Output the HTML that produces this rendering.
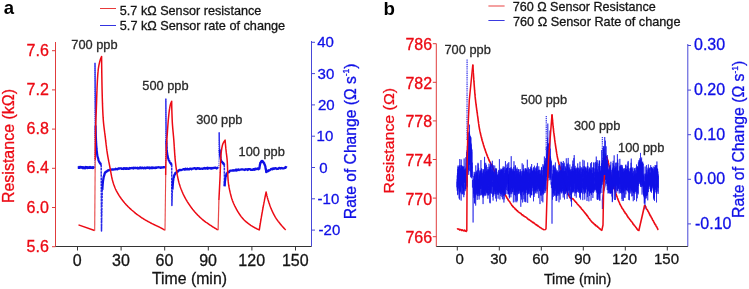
<!DOCTYPE html>
<html><head><meta charset="utf-8"><style>
html,body{margin:0;padding:0;background:#fff;width:749px;height:289px;overflow:hidden}
svg{display:block;will-change:transform;filter:blur(0.3px)}
text{font-family:"Liberation Sans", sans-serif}
</style></head><body>
<svg width="749" height="289" viewBox="0 0 749 289">
<rect width="749" height="289" fill="#fff"/>
<text x="3.8" y="13.5" font-size="18.5" fill="#000" text-anchor="start" font-weight="bold" >a</text>
<line x1="100" y1="8.5" x2="116" y2="8.5" stroke="#e83a3a" stroke-width="1"/>
<text x="119.8" y="14.7" font-size="12.65" fill="#151515" text-anchor="start" font-weight="normal" stroke="#151515" stroke-width="0.3" >5.7 kΩ Sensor resistance</text>
<line x1="100" y1="25.5" x2="116" y2="25.5" stroke="#3434e0" stroke-width="1"/>
<text x="119.8" y="30.2" font-size="12.7" fill="#151515" text-anchor="start" font-weight="normal" stroke="#151515" stroke-width="0.3" >5.7 kΩ Sensor rate of change</text>
<text x="71.3" y="49.4" font-size="12.8" fill="#2a2a2a" text-anchor="start" font-weight="normal" stroke="#2a2a2a" stroke-width="0.3" >700 ppb</text>
<text x="142.3" y="90.2" font-size="12.8" fill="#2a2a2a" text-anchor="start" font-weight="normal" stroke="#2a2a2a" stroke-width="0.3" >500 ppb</text>
<text x="196.2" y="124.1" font-size="12.8" fill="#2a2a2a" text-anchor="start" font-weight="normal" stroke="#2a2a2a" stroke-width="0.3" >300 ppb</text>
<text x="238.6" y="156.0" font-size="12.8" fill="#2a2a2a" text-anchor="start" font-weight="normal" stroke="#2a2a2a" stroke-width="0.3" >100 ppb</text>
<path d="M78.10 167.39 78.45 167.18 78.80 167.78 79.15 167.09 79.50 167.64 79.85 167.44 80.20 167.07 80.55 167.61 80.90 167.04 81.25 167.52 81.60 167.08 81.95 167.11 82.30 167.51 82.65 167.99 83.00 167.15 83.35 167.27 83.70 167.75 84.05 168.14 84.40 167.69 84.75 167.48 85.10 168.17 85.45 167.06 85.80 168.03 86.15 167.35 86.50 167.17 86.85 167.14 87.20 167.37 87.55 167.98 87.90 167.22 88.25 167.70 88.60 167.77 88.95 167.45 89.30 167.66 89.65 167.08 90.00 167.07 90.35 167.25 90.70 167.82 91.05 167.51 91.40 167.38 91.75 167.70 92.10 167.54 92.45 167.36 92.80 167.95 93.15 167.84 93.50 167.29 93.85 167.69 94.20 167.63 94.55 168.05" fill="none" stroke="#1010e6" stroke-width="2.4" stroke-linejoin="round" />
<path d="M94.80 167.50 95.00 62.70" fill="none" stroke="#6a6af2" stroke-width="1.3" stroke-linejoin="round" stroke-dasharray="1.1 1.0"/>
<path d="M95.00 62.84 95.00 63.10 95.01 64.04 95.01 64.05 95.02 64.75 95.02 65.48 95.02 65.64 95.03 66.37 95.03 66.62 95.04 67.54 95.04 68.14 95.04 68.56 95.05 69.28 95.05 69.48 95.06 70.25 95.06 70.73 95.07 71.26 95.07 71.72 95.07 72.49 95.08 73.09 95.08 73.35 95.09 74.00 95.09 74.17 95.09 75.09 95.10 75.59 95.10 76.33 95.11 76.77 95.11 76.98 95.11 77.58 95.12 78.28 95.12 78.43 95.13 79.23 95.13 79.59 95.14 80.08 95.14 80.57 95.14 81.51 95.15 81.65 95.15 82.25 95.16 82.85 95.16 83.66 95.16 83.71 95.17 84.46 95.17 85.04 95.18 85.76 95.18 86.24 95.18 86.79 95.19 86.96 95.19 87.58 95.20 88.08 95.20 88.93 95.21 89.51 95.21 89.57 95.22 90.12 95.22 90.69 95.22 91.22 95.23 91.91 95.23 92.51 95.24 92.85 95.24 93.23 95.25 94.01 95.25 94.52 95.26 95.18 95.26 95.95 95.27 96.34 95.27 96.77 95.28 97.37 95.28 97.95 95.29 98.11 95.29 99.16 95.30 99.63 95.30 100.22 95.31 100.70 95.31 100.97 95.32 101.49 95.32 101.83 95.33 102.66 95.33 102.84 95.34 103.36 95.34 103.96 95.35 104.45 95.35 105.07 95.36 105.40 95.36 105.87 95.37 106.46 95.38 106.93 95.38 107.59 95.39 107.88 95.39 108.89 95.40 109.24 95.41 109.46 95.41 110.02 95.42 110.60 95.42 111.12 95.43 111.50 95.44 112.45 95.44 113.06 95.45 113.26 95.46 113.79 95.46 114.06 95.47 114.59 95.48 115.25 95.48 115.73 95.49 116.58 95.50 116.70 95.50 117.13 95.51 118.21 95.52 118.47 95.52 118.76 95.53 119.57 95.54 119.84 95.54 120.72 95.55 121.56 95.56 122.07 95.57 122.54 95.57 122.79 95.58 123.37 95.59 123.77 95.59 124.65 95.60 125.02" fill="none" stroke="#3030ee" stroke-width="1.4" stroke-linejoin="round" />
<path d="M95.60 125.28 95.61 125.38 95.62 125.83 95.64 126.97 95.65 127.72 95.66 128.16 95.67 128.69 95.68 129.28 95.69 129.75 95.70 129.78 95.72 130.62 95.73 131.00 95.74 131.22 95.75 131.80 95.77 132.63 95.78 133.19 95.79 134.20 95.81 135.05 95.82 135.11 95.84 136.17 95.86 136.79 95.88 137.33 95.89 137.31 95.92 137.67 95.94 138.19 95.96 138.67 95.98 139.19 96.00 140.12 96.03 140.99 96.06 141.52 96.09 141.74 96.13 142.50 96.16 143.24 96.20 143.11 96.23 144.28 96.27 145.11 96.31 145.56 96.35 146.10 96.39 146.40 96.43 146.68 96.48 147.84 96.52 147.93 96.56 148.94 96.61 149.66 96.65 149.59 96.70 150.10 96.75 151.15 96.80 151.43 96.86 151.47 96.93 152.03 97.00 152.65 97.07 153.92 97.15 154.35 97.22 154.21 97.34 155.57 97.46 156.41 97.59 156.68 97.72 156.98 97.85 157.70 97.98 157.82 98.24 158.65 98.50 160.47 98.76 160.90 99.02 161.38 99.28 162.28 99.54 162.19 99.78 163.00 100.00 163.33 100.21 163.07 100.41 163.42 100.59 163.73 100.76 163.91 100.90 164.44 101.00 164.26" fill="none" stroke="#1010e6" stroke-width="2.2" stroke-linejoin="round" />
<path d="M101.20 165.00 101.50 231.10 101.90 205.00 102.30 190.00" fill="none" stroke="#2828ea" stroke-width="1.5" stroke-linejoin="round" stroke-dasharray="2.5 0.6"/>
<path d="M102.30 189.92 102.34 188.98 102.39 188.85 102.42 187.76 102.45 187.33 102.49 186.88 102.52 186.63 102.56 185.57 102.61 185.49 102.65 184.54 102.70 184.03 102.75 183.52 102.80 182.51 102.86 182.42 102.91 181.65 102.97 180.95 103.03 181.24 103.10 180.10 103.17 179.90 103.32 179.17 103.50 178.06 103.70 176.90 103.93 176.17 104.17 175.31 104.44 174.69 104.71 173.25 105.00 173.06 105.29 172.23 105.59 171.86 105.91 172.03 106.24 171.50 106.60 171.31 107.00 171.26 107.42 171.16 107.85 170.47 108.31 170.44 108.81 170.15 109.37 169.98 110.00 169.99 110.66 169.59 111.33 169.53 112.06 169.33 112.89 169.67 113.85 169.31 114.43 169.43 115.00 169.44 115.66 168.71 116.32 168.96 117.05 169.30 117.78 169.15 118.31 168.42 118.84 168.38 119.38 168.67 119.95 168.28 120.53 168.42 121.11 168.23 121.74 168.80 122.36 168.89 122.99 168.98 123.49 168.21 123.99 168.76 124.50 168.68 125.00 168.14 125.52 168.86 126.05 168.93 126.57 168.16 127.09 168.87 127.64 168.29 128.18 168.36 128.72 168.84 129.26 168.66 129.84 167.97 130.41 168.22 130.99 168.28 131.56 168.08 132.06 167.92 132.57 168.03 133.07 168.42 133.57 167.70 134.07 168.21 134.63 168.08 135.19 167.64 135.75 167.94 136.31 168.22 136.86 168.09 137.39 167.63 137.91 168.54 138.43 168.33 138.95 168.50 139.48 167.62 140.00 167.77 140.55 167.53 141.11 168.26 141.66 167.74 142.22 167.59 142.77 167.87 143.32 168.35 143.88 168.24 144.39 167.67 144.91 167.55 145.42 168.32 145.94 167.96 146.46 168.08 146.97 167.46 147.49 167.42 148.00 168.04 148.52 167.77 149.07 167.41 149.61 168.27 150.16 167.95 150.70 168.11 151.25 167.39 151.80 168.15 152.34 167.35 152.89 168.14 153.44 167.72 153.96 167.60 154.48 167.81 155.01 168.17 155.53 167.51 156.05 167.36 156.58 167.75 157.10 167.45 157.62 167.32 158.15 167.36 158.65 167.24 159.15 167.39 159.65 167.49 160.16 167.48 160.66 167.92 161.16 167.45 161.66 167.65 162.16 167.32 162.73 167.48 163.30 167.14 163.87 167.37 164.43 167.12 165.00 167.83" fill="none" stroke="#1010e6" stroke-width="2.3" stroke-linejoin="round" />
<path d="M165.60 167.50 165.80 98.40" fill="none" stroke="#6a6af2" stroke-width="1.3" stroke-linejoin="round" stroke-dasharray="1.1 1.0"/>
<path d="M165.80 98.43 165.81 98.81 165.81 99.57 165.82 100.44 165.82 100.53 165.83 101.51 165.83 101.82 165.83 102.41 165.84 103.16 165.84 103.45 165.85 104.06 165.85 104.73 165.86 105.46 165.86 105.63 165.87 106.48 165.87 106.96 165.88 107.48 165.88 107.89 165.89 108.38 165.89 108.72 165.90 109.29 165.90 109.78 165.90 110.70 165.91 110.93 165.91 111.40 165.92 111.87 165.92 112.84 165.93 113.37 165.93 113.77 165.94 114.05 165.94 114.54 165.95 115.09 165.95 115.70 165.96 116.04 165.96 116.75 165.97 117.17 165.98 118.13 165.98 118.67 165.99 118.95 165.99 119.31 166.00 120.28 166.01 120.41 166.01 120.96 166.02 121.27 166.03 122.02 166.03 122.60 166.04 123.14 166.05 123.48 166.06 124.21 166.06 124.47 166.07 125.17 166.08 125.62 166.09 126.36 166.10 126.70 166.10 127.24 166.11 127.95 166.12 128.46 166.13 129.22 166.14 129.73 166.15 130.41 166.15 130.90 166.16 131.48 166.17 132.08 166.18 132.29 166.19 132.76 166.19 133.65 166.20 133.66 166.21 134.51 166.22 134.96 166.23 135.19 166.24 136.26 166.25 136.89 166.26 137.33 166.27 137.98 166.27 138.57 166.28 138.70 166.29 139.47 166.30 140.00" fill="none" stroke="#3030ee" stroke-width="1.4" stroke-linejoin="round" />
<path d="M166.30 140.33 166.32 140.87 166.35 141.45 166.37 141.73 166.39 142.57 166.41 142.89 166.44 143.52 166.46 143.67 166.49 144.09 166.52 144.85 166.55 145.73 166.58 146.12 166.61 147.48 166.65 147.83 166.68 148.52 166.72 149.05 166.76 149.64 166.80 149.99 166.87 150.19 166.93 151.67 167.00 152.27 167.08 152.67 167.16 153.31 167.24 154.03 167.32 154.00 167.41 155.24 167.50 155.27 167.60 155.62 167.80 156.77 168.02 158.09 168.27 158.32 168.53 159.53 168.80 160.38 169.06 160.46 169.30 160.88 169.53 161.47 169.76 162.12 169.99 162.59 170.20 162.79 170.41 163.14 170.60 162.88 170.78 163.22 170.96 163.58 171.13 164.29 171.28 164.03 171.41 164.45 171.50 164.01" fill="none" stroke="#1010e6" stroke-width="2.2" stroke-linejoin="round" />
<path d="M171.70 165.00 171.90 205.60 172.20 195.00 172.40 190.00" fill="none" stroke="#2828ea" stroke-width="1.5" stroke-linejoin="round" stroke-dasharray="2.5 0.6"/>
<path d="M172.40 189.56 172.44 189.20 172.48 189.03 172.52 188.50 172.55 187.94 172.59 187.01 172.63 186.60 172.68 185.91 172.72 185.28 172.77 184.27 172.82 184.39 172.87 183.03 172.92 183.20 172.97 182.54 173.03 181.01 173.09 180.95 173.14 180.82 173.20 180.47 173.29 179.38 173.38 178.62 173.57 177.60 173.77 177.51 174.00 176.04 174.24 175.74 174.50 174.64 174.78 174.39 175.06 174.26 175.36 172.93 175.70 173.15 176.07 172.41 176.50 172.39 176.97 171.84 177.46 171.05 178.00 171.43 178.59 170.76 179.25 170.06 180.00 169.80 180.82 170.07 181.70 169.82 182.66 169.48 183.17 169.24 183.69 169.35 184.24 169.24 184.80 169.69 185.40 168.78 186.00 169.45 186.63 169.47 187.26 168.69 187.91 169.44 188.56 169.17 189.25 169.31 189.94 168.65 190.44 168.70 190.94 168.69 191.44 169.27 192.00 168.83 192.56 168.57 193.12 168.61 193.75 168.43 194.37 168.18 195.00 168.20 195.56 168.91 196.11 168.35 196.67 168.98 197.23 168.27 197.74 168.27 198.26 168.50 198.77 168.16 199.28 168.33 199.80 168.90 200.34 168.81 200.89 168.73 201.44 168.53 201.98 168.80 202.53 168.82 203.08 168.41 203.62 168.57 204.17 167.89 204.71 168.56 205.26 168.26 205.77 168.55 206.28 168.43 206.79 168.06 207.30 167.81 207.81 168.68 208.36 167.87 208.90 168.20 209.45 168.06 210.00 168.00 210.63 168.42 211.26 168.64 211.89 167.91 212.47 168.29 213.05 167.93 213.63 168.17 214.15 167.99 214.67 167.75 215.19 167.74 215.86 167.77 216.54 168.45 217.09 168.03 217.65 167.74 218.50 168.41" fill="none" stroke="#1010e6" stroke-width="2.3" stroke-linejoin="round" />
<path d="M218.80 168.00 219.20 132.00" fill="none" stroke="#6a6af2" stroke-width="1.3" stroke-linejoin="round" stroke-dasharray="1.1 1.0"/>
<path d="M219.20 132.30 219.21 132.47 219.21 132.79 219.22 133.32 219.23 133.80 219.23 134.49 219.24 134.88 219.25 135.51 219.25 136.03 219.26 136.72 219.27 137.41 219.27 137.83 219.28 138.14 219.29 138.65 219.30 139.24 219.30 139.67 219.31 140.16 219.32 140.52 219.33 141.24 219.34 142.24 219.35 142.33 219.36 143.15 219.37 143.84 219.39 144.60 219.40 144.83 219.42 145.54 219.45 146.20 219.48 146.84 219.50 147.41 219.56 148.58 219.62 149.21 219.67 149.77 219.70 149.71" fill="none" stroke="#3030ee" stroke-width="1.4" stroke-linejoin="round" />
<path d="M219.70 149.53 219.78 151.13 219.83 151.97 219.88 152.20 219.92 152.82 219.96 152.74 220.01 153.64 220.05 154.70 220.10 155.13 220.15 155.69 220.23 156.54 220.32 156.55 220.41 157.01 220.50 157.65 220.71 158.95 220.95 159.90 221.21 160.85 221.47 161.22 221.74 161.67 222.00 162.26 222.26 162.35 222.53 162.74 222.80 162.45 223.06 163.37 223.30 163.01 223.50 163.92 223.67 163.91 223.82 163.86 223.94 163.97 224.05 164.36 224.13 164.97 224.20 165.20" fill="none" stroke="#1010e6" stroke-width="2.2" stroke-linejoin="round" />
<path d="M224.30 165.00 224.50 186.70" fill="none" stroke="#2828ea" stroke-width="1.5" stroke-linejoin="round" stroke-dasharray="2.5 0.6"/>
<path d="M224.60 186.31 224.65 185.52 224.68 185.45 224.71 184.98 224.74 184.17 224.78 183.39 224.83 183.11 224.87 181.87 224.92 181.53 224.98 181.06 225.04 181.01 225.10 180.14 225.24 179.43 225.40 178.10 225.57 176.98 225.76 176.18 225.97 176.14 226.20 175.20 226.43 174.21 226.67 173.41 226.92 173.44 227.21 173.22 227.56 172.59 228.00 172.06 228.49 172.12 229.02 172.06 229.61 171.07 230.29 170.61 231.08 170.67 232.00 170.52 232.60 170.67 233.19 170.08 233.93 170.58 234.67 170.42 235.19 170.12 235.72 169.76 236.25 170.46 236.76 169.75 237.27 170.21 237.78 169.56 238.43 169.49 239.08 169.96 240.00 169.39" fill="none" stroke="#1010e6" stroke-width="2.3" stroke-linejoin="round" />
<path d="M240.00 170.05 240.85 169.60 241.68 169.29 242.49 169.32 243.29 169.51 244.07 169.75 244.83 170.03 245.57 169.22 246.30 169.46 247.00 169.27 247.69 170.01 248.36 169.17 249.02 169.06 249.65 169.06 250.27 169.37 250.86 169.86 251.44 169.82 252.00 169.64 252.54 169.88 253.06 169.79 253.57 169.16 254.05 168.98 254.51 169.70 254.96 169.48 255.39 168.72 255.79 169.32 256.18 168.99 256.55 168.94 256.89 168.85 257.22 168.64 257.53 168.42 257.82 168.65 258.08 168.66 258.33 169.21 258.56 168.32 258.77 169.09 258.95 168.27 259.12 168.35 259.26 168.74 259.38 168.61 259.48 167.89 259.56 167.01 259.63 166.85 259.71 166.11 259.79 166.04 259.89 164.76 260.00 164.42 260.12 164.42 260.25 163.02 260.41 162.90 260.59 162.85 260.81 162.45 261.17 161.40 261.66 161.11 262.16 160.97 262.60 161.90 263.04 161.55 263.41 162.44 263.70 162.96 263.95 162.81 264.19 163.18 264.40 164.34 264.60 164.48 264.78 164.62 264.95 165.58 265.10 165.67 265.24 166.11 265.36 166.33 265.48 167.57 265.58 168.22 265.68 168.44 265.77 169.25 265.86 168.83 265.96 169.53 266.06 170.31 266.13 171.44 266.22 172.04 266.33 171.84 266.54 171.69 266.97 171.54 267.44 171.23 267.87 171.39 268.29 170.37 268.72 170.72 269.16 170.41 269.61 170.27 270.07 169.99 270.53 169.60 271.00 169.12 271.48 168.95 271.96 168.87 272.45 169.21 272.94 168.44 273.44 168.51 273.95 169.02 274.46 168.47 274.97 168.25 275.47 168.18 275.98 168.65 276.48 168.39 276.99 169.00 277.49 168.87 278.00 168.95 278.51 168.20 279.02 167.99 279.52 167.97 280.03 168.35 280.54 168.53 281.04 168.24 281.55 167.99 282.05 168.13 282.55 168.29 283.05 168.29 283.54 168.31 284.03 168.34 284.56 168.06 285.07 167.37 285.51 167.90 285.84 167.07 286.10 166.90 286.30 166.17" fill="none" stroke="#1010e6" stroke-width="2.3" stroke-linejoin="round" />
<path d="M78.50 224.90 94.60 230.50" fill="none" stroke="#ec0a14" stroke-width="1.5" stroke-linejoin="round" />
<path d="M94.70 230.80 95.20 160.00" fill="none" stroke="#e84848" stroke-width="1.1" stroke-linejoin="round" />
<path d="M95.20 160.00 95.20 159.60 95.20 159.20 95.20 158.79 95.20 158.39 95.20 157.99 95.21 157.59 95.21 157.19 95.21 156.79 95.21 156.38 95.21 155.98 95.22 155.58 95.22 155.18 95.22 154.78 95.22 154.38 95.23 153.97 95.23 153.57 95.23 153.17 95.24 152.77 95.24 152.37 95.24 151.97 95.25 151.56 95.25 151.16 95.26 150.76 95.26 150.36 95.27 149.96 95.27 149.56 95.28 149.15 95.28 148.75 95.28 148.35 95.29 147.95 95.30 147.55 95.30 147.15 95.31 146.74 95.31 146.34 95.32 145.94 95.32 145.54 95.33 145.14 95.33 144.74 95.34 144.33 95.35 143.93 95.35 143.53 95.36 143.13 95.37 142.73 95.37 142.33 95.38 141.92 95.39 141.52 95.39 141.12 95.40 140.72 95.41 140.32 95.41 139.92 95.42 139.51 95.43 139.11 95.43 138.71 95.44 138.31 95.45 137.91 95.46 137.51 95.46 137.11 95.47 136.70 95.48 136.30 95.49 135.90 95.49 135.50 95.50 135.10 95.51 134.70 95.52 134.29 95.52 133.89 95.53 133.49 95.54 133.09 95.55 132.69 95.56 132.29 95.56 131.89 95.57 131.48 95.58 131.08 95.59 130.68 95.59 130.28 95.60 129.88 95.61 129.48 95.62 129.07 95.63 128.67 95.64 128.27 95.65 127.87 95.66 127.47 95.67 127.07 95.68 126.67 95.69 126.26 95.70 125.86 95.71 125.46 95.73 125.06 95.74 124.66 95.75 124.26 95.76 123.86 95.78 123.45 95.79 123.05 95.80 122.65 95.82 122.25 95.83 121.85 95.84 121.45 95.86 121.05 95.87 120.64 95.89 120.24 95.90 119.84 95.92 119.44 95.93 119.04 95.95 118.64 95.96 118.24 95.98 117.83 96.00 117.43 96.01 117.03 96.03 116.63 96.04 116.23 96.06 115.83 96.07 115.43 96.09 115.02 96.11 114.62 96.12 114.22 96.14 113.82 96.15 113.42 96.17 113.02 96.19 112.62 96.20 112.21 96.22 111.81 96.23 111.41 96.25 111.01 96.27 110.61 96.28 110.21 96.30 109.81 96.31 109.40 96.33 109.00 96.34 108.60 96.36 108.20 96.37 107.80 96.39 107.40 96.40 107.00 96.41 106.59 96.43 106.19 96.44 105.79 96.46 105.39 96.47 104.99 96.48 104.59 96.50 104.19 96.51 103.78 96.52 103.38 96.54 102.98 96.55 102.58 96.56 102.18 96.58 101.78 96.59 101.38 96.60 100.97 96.62 100.57 96.63 100.17 96.64 99.77 96.65 99.37 96.67 98.97 96.68 98.57 96.69 98.16 96.71 97.76 96.72 97.36 96.73 96.96 96.75 96.56 96.76 96.16 96.77 95.75 96.79 95.35 96.80 94.95 96.82 94.55 96.83 94.15 96.84 93.75 96.86 93.35 96.87 92.94 96.89 92.54 96.90 92.14 96.92 91.74 96.93 91.34 96.95 90.94 96.96 90.54 96.98 90.13 96.99 89.73 97.01 89.33 97.03 88.93 97.04 88.53 97.06 88.13 97.08 87.73 97.09 87.33 97.11 86.92 97.13 86.52 97.15 86.12 97.17 85.72 97.18 85.32 97.20 84.92 97.22 84.52 97.24 84.12 97.26 83.72 97.28 83.31 97.30 82.91 97.32 82.51 97.34 82.11 97.36 81.71 97.38 81.30 97.40 80.90 97.42 80.50 97.45 80.10 97.47 79.70 97.49 79.29 97.51 78.89 97.54 78.49 97.56 78.09 97.58 77.69 97.61 77.29 97.64 76.88 97.66 76.48 97.69 76.08 97.72 75.68 97.74 75.28 97.77 74.88 97.80 74.48 97.83 74.08 97.86 73.68 97.90 73.28 97.93 72.88 97.96 72.48 98.00 72.08 98.04 71.68 98.07 71.28 98.11 70.88 98.15 70.49 98.19 70.09 98.23 69.69 98.28 69.29 98.33 68.90 98.38 68.50 98.44 68.10 98.50 67.70 98.56 67.30 98.62 66.91 98.69 66.51 98.76 66.11 98.84 65.71 98.91 65.32 98.99 64.92 99.08 64.52 99.16 64.13 99.25 63.73 99.34 63.34 99.43 62.95 99.52 62.56 99.62 62.17 99.72 61.78 99.82 61.39 99.92 61.00 100.03 60.62 100.13 60.23 100.24 59.85 100.36 59.47 100.49 59.10 100.63 58.72 100.78 58.35 100.94 57.98 101.10 57.61 101.26 57.24 101.43 56.87 101.60 56.50 101.60 56.50 101.60 56.90 101.61 57.30 101.61 57.70 101.61 58.10 101.61 58.51 101.62 58.91 101.62 59.31 101.62 59.71 101.63 60.11 101.63 60.51 101.64 60.91 101.64 61.31 101.64 61.71 101.65 62.11 101.65 62.52 101.66 62.92 101.66 63.32 101.66 63.72 101.67 64.12 101.67 64.52 101.68 64.92 101.68 65.32 101.69 65.72 101.69 66.12 101.70 66.53 101.70 66.93 101.71 67.33 101.71 67.73 101.72 68.13 101.72 68.53 101.73 68.93 101.73 69.33 101.74 69.73 101.75 70.13 101.75 70.54 101.76 70.94 101.76 71.34 101.77 71.74 101.77 72.14 101.78 72.54 101.79 72.94 101.79 73.34 101.80 73.74 101.80 74.14 101.81 74.55 101.82 74.95 101.82 75.35 101.83 75.75 101.84 76.15 101.84 76.55 101.85 76.95 101.86 77.35 101.86 77.75 101.87 78.15 101.88 78.55 101.88 78.96 101.89 79.36 101.90 79.76 101.90 80.16 101.91 80.56 101.92 80.96 101.92 81.36 101.93 81.76 101.94 82.16 101.95 82.56 101.95 82.97 101.96 83.37 101.97 83.77 101.98 84.17 101.98 84.57 101.99 84.97 102.00 85.37 102.01 85.77 102.02 86.17 102.02 86.57 102.03 86.97 102.04 87.38 102.05 87.78 102.06 88.18 102.07 88.58 102.08 88.98 102.08 89.38 102.09 89.78 102.10 90.18 102.11 90.58 102.12 90.98 102.13 91.39 102.14 91.79 102.15 92.19 102.16 92.59 102.17 92.99 102.18 93.39 102.19 93.79 102.20 94.19 102.21 94.59 102.22 94.99 102.23 95.40 102.24 95.80 102.26 96.20 102.27 96.60 102.28 97.00 102.29 97.40 102.30 97.80 102.31 98.20 102.32 98.60 102.34 99.00 102.35 99.40 102.36 99.80 102.37 100.21 102.38 100.61 102.40 101.01 102.41 101.41 102.42 101.81 102.44 102.21 102.45 102.61 102.46 103.01 102.47 103.41 102.49 103.81 102.50 104.21 102.52 104.61 102.53 105.01 102.54 105.42 102.56 105.82 102.57 106.22 102.59 106.62 102.60 107.02 102.62 107.42 102.63 107.82 102.65 108.22 102.66 108.62 102.68 109.02 102.70 109.42 102.71 109.82 102.73 110.22 102.75 110.62 102.77 111.03 102.79 111.43 102.81 111.83 102.83 112.23 102.85 112.63 102.87 113.03 102.89 113.43 102.91 113.83 102.93 114.23 102.95 114.63 102.98 115.03 103.00 115.43 103.02 115.83 103.05 116.23 103.07 116.63 103.10 117.03 103.12 117.43 103.15 117.83 103.18 118.23 103.20 118.63 103.23 119.03 103.26 119.43 103.29 119.83 103.32 120.23 103.35 120.63 103.38 121.03 103.41 121.43 103.45 121.83 103.48 122.23 103.52 122.63 103.56 123.03 103.60 123.43 103.64 123.82 103.68 124.22 103.72 124.62 103.77 125.02 103.81 125.42 103.85 125.82 103.90 126.22 103.95 126.61 103.99 127.01 104.04 127.41 104.09 127.81 104.14 128.21 104.19 128.61 104.24 129.00 104.29 129.40 104.34 129.80 104.39 130.20 104.44 130.60 104.49 130.99 104.54 131.39 104.59 131.79 104.64 132.19 104.70 132.59 104.75 132.98 104.80 133.38 104.85 133.78 104.90 134.18 104.95 134.58 105.00 134.97 105.05 135.37 105.10 135.77 105.15 136.17 105.20 136.57 105.24 136.97 105.29 137.36 105.34 137.76 105.39 138.16 105.43 138.56 105.48 138.96 105.53 139.36 105.57 139.75 105.62 140.15 105.67 140.55 105.71 140.95 105.76 141.35 105.81 141.75 105.86 142.14 105.90 142.54 105.95 142.94 106.00 143.34 106.05 143.74 106.09 144.14 106.14 144.53 106.19 144.93 106.24 145.33 106.29 145.73 106.34 146.13 106.39 146.53 106.44 146.92 106.49 147.32 106.54 147.72 106.59 148.12 106.64 148.51 106.69 148.91 106.75 149.31 106.80 149.71 106.85 150.10 106.91 150.50 106.96 150.90 107.02 151.29 107.08 151.69 107.13 152.09 107.19 152.48 107.25 152.88 107.31 153.28 107.37 153.67 107.43 154.07 107.50 154.46 107.56 154.86 107.63 155.25 107.70 155.65 107.76 156.04 107.83 156.44 107.90 156.83 107.97 157.23 108.04 157.62 108.12 158.02 108.19 158.41 108.26 158.81 108.34 159.20 108.41 159.59 108.49 159.99 108.57 160.38 108.64 160.78 108.72 161.17 108.80 161.56 108.87 161.96 108.95 162.35 109.03 162.74 109.11 163.14 109.18 163.53 109.26 163.93 109.34 164.32 109.42 164.71 109.50 165.11 109.57 165.50 109.65 165.89 109.73 166.29 109.80 166.68 109.88 167.08 109.96 167.47 110.03 167.86 110.11 168.26 110.18 168.65 110.25 169.05 110.32 169.44 110.39 169.84 110.46 170.23 110.53 170.63 110.60 171.03 110.67 171.42 110.74 171.82 110.81 172.21 110.88 172.61 110.95 173.01 111.02 173.40 111.10 173.80 111.17 174.19 111.24 174.59 111.31 174.98 111.39 175.38 111.47 175.77 111.54 176.17 111.62 176.56 111.70 176.95 111.78 177.34 111.87 177.73 111.95 178.12 112.04 178.51 112.13 178.90 112.22 179.29 112.32 179.68 112.42 180.06 112.52 180.45 112.62 180.84 112.73 181.22 112.84 181.61 112.95 181.99 113.07 182.38 113.19 182.76 113.31 183.15 113.43 183.53 113.56 183.91 113.69 184.29 113.82 184.68 113.96 185.06 114.10 185.43 114.24 185.81 114.38 186.19 114.52 186.56 114.67 186.94 114.82 187.31 114.97 187.68 115.12 188.05 115.28 188.41 115.43 188.78 115.59 189.14 115.76 189.50 115.93 189.87 116.10 190.23 116.28 190.58 116.46 190.94 116.65 191.30 116.84 191.66 117.03 192.01 117.23 192.36 117.43 192.71 117.63 193.06 117.83 193.41 118.04 193.76 118.25 194.10 118.46 194.45 118.67 194.79 118.88 195.13 119.10 195.47 119.31 195.81 119.53 196.14 119.75 196.47 119.97 196.81 120.19 197.14 120.42 197.47 120.64 197.80 120.87 198.12 121.11 198.45 121.34 198.78 121.58 199.10 121.82 199.43 122.06 199.75 122.31 200.07 122.55 200.39 122.80 200.71 123.05 201.02 123.31 201.34 123.56 201.65 123.82 201.96 124.07 202.27 124.33 202.58 124.59 202.88 124.85 203.19 125.12 203.49 125.38 203.79 125.65 204.09 125.92 204.39 126.18 204.68 126.45 204.97 126.72 205.26 127.00 205.55 127.28 205.84 127.56 206.13 127.84 206.41 128.12 206.69 128.41 206.98 128.70 207.26 128.99 207.53 129.28 207.81 129.57 208.09 129.87 208.36 130.17 208.63 130.47 208.90 130.77 209.17 131.07 209.44 131.37 209.71 131.67 209.97 131.97 210.24 132.28 210.50 132.58 210.76 132.89 211.02 133.20 211.28 133.50 211.53 133.81 211.79 134.12 212.05 134.43 212.30 134.74 212.55 135.05 212.80 135.36 213.06 135.67 213.31 135.99 213.55 136.31 213.80 136.62 214.05 136.94 214.29 137.26 214.54 137.58 214.78 137.90 215.02 138.23 215.26 138.55 215.50 138.88 215.74 139.20 215.98 139.53 216.21 139.86 216.44 140.18 216.67 140.51 216.90 140.84 217.13 141.18 217.35 141.51 217.58 141.84 217.80 142.17 218.02 142.51 218.24 142.84 218.45 143.18 218.66 143.52 218.88 143.86 219.09 144.20 219.30 144.55 219.50 144.89 219.71 145.24 219.91 145.58 220.12 145.93 220.32 146.28 220.52 146.63 220.72 146.98 220.92 147.33 221.11 147.68 221.31 148.03 221.50 148.38 221.70 148.74 221.89 149.09 222.08 149.44 222.27 149.80 222.46 150.15 222.65 150.50 222.84 150.86 223.03 151.21 223.21 151.57 223.40 151.93 223.58 152.28 223.76 152.64 223.93 153.00 224.11 153.36 224.28 153.73 224.46 154.09 224.63 154.45 224.80 154.82 224.97 155.18 225.14 155.54 225.31 155.91 225.48 156.27 225.65 156.64 225.82 157.00 225.99 157.36 226.16 157.73 226.33 158.09 226.50 158.45 226.67 158.81 226.85 159.17 227.02 159.53 227.20 159.89 227.38 160.24 227.57 160.60 227.75 160.95 227.94 161.31 228.13 161.66 228.32 162.01 228.51 162.36 228.71 162.71 228.90 163.06 229.10 163.41 229.30 163.76 229.50 164.11 229.70 164.45 229.90 164.80 230.10" fill="none" stroke="#ec0a14" stroke-width="1.5" stroke-linejoin="round" />
<path d="M165.00 230.40 165.70 175.00" fill="none" stroke="#e84848" stroke-width="1.1" stroke-linejoin="round" />
<path d="M165.70 175.00 165.70 174.60 165.70 174.19 165.70 173.79 165.71 173.38 165.71 172.98 165.71 172.58 165.71 172.17 165.72 171.77 165.72 171.37 165.73 170.96 165.73 170.56 165.74 170.15 165.74 169.75 165.75 169.35 165.75 168.94 165.76 168.54 165.77 168.14 165.78 167.73 165.78 167.33 165.79 166.93 165.80 166.52 165.81 166.12 165.82 165.71 165.82 165.31 165.83 164.91 165.84 164.50 165.85 164.10 165.86 163.70 165.87 163.29 165.88 162.89 165.89 162.49 165.90 162.08 165.92 161.68 165.93 161.28 165.94 160.87 165.95 160.47 165.96 160.07 165.97 159.66 165.99 159.26 166.00 158.86 166.01 158.45 166.02 158.05 166.04 157.65 166.05 157.24 166.06 156.84 166.08 156.44 166.09 156.03 166.10 155.63 166.12 155.23 166.13 154.82 166.14 154.42 166.16 154.02 166.17 153.61 166.19 153.21 166.20 152.81 166.21 152.40 166.23 152.00 166.24 151.60 166.26 151.19 166.27 150.79 166.29 150.39 166.30 149.98 166.32 149.58 166.33 149.18 166.35 148.78 166.36 148.37 166.38 147.97 166.40 147.57 166.42 147.16 166.44 146.76 166.46 146.36 166.48 145.95 166.51 145.55 166.53 145.15 166.55 144.75 166.58 144.34 166.60 143.94 166.62 143.54 166.65 143.13 166.67 142.73 166.70 142.33 166.73 141.93 166.75 141.52 166.78 141.12 166.81 140.72 166.83 140.31 166.86 139.91 166.89 139.51 166.92 139.11 166.94 138.70 166.97 138.30 167.00 137.90 167.03 137.49 167.06 137.09 167.08 136.69 167.11 136.29 167.14 135.88 167.17 135.48 167.19 135.08 167.22 134.68 167.25 134.27 167.28 133.87 167.30 133.47 167.33 133.07 167.36 132.66 167.39 132.26 167.41 131.86 167.44 131.45 167.47 131.05 167.50 130.65 167.52 130.25 167.55 129.84 167.58 129.44 167.61 129.04 167.64 128.63 167.66 128.23 167.69 127.83 167.72 127.43 167.75 127.02 167.78 126.62 167.81 126.22 167.84 125.81 167.87 125.41 167.90 125.01 167.93 124.61 167.96 124.20 167.99 123.80 168.02 123.40 168.06 123.00 168.09 122.59 168.12 122.19 168.16 121.79 168.19 121.39 168.22 120.98 168.26 120.58 168.29 120.18 168.33 119.78 168.37 119.38 168.40 118.98 168.44 118.57 168.48 118.17 168.52 117.77 168.56 117.37 168.60 116.97 168.64 116.57 168.68 116.17 168.72 115.77 168.76 115.36 168.80 114.96 168.85 114.56 168.89 114.16 168.94 113.76 168.98 113.36 169.03 112.95 169.07 112.55 169.12 112.15 169.17 111.75 169.22 111.34 169.27 110.94 169.33 110.54 169.38 110.13 169.44 109.73 169.50 109.33 169.56 108.93 169.62 108.53 169.69 108.13 169.75 107.73 169.82 107.34 169.90 106.94 169.97 106.55 170.05 106.16 170.13 105.76 170.22 105.37 170.30 104.99 170.40 104.60 170.51 104.22 170.63 103.83 170.77 103.45 170.91 103.08 171.06 102.70 171.22 102.32 171.38 101.95 171.54 101.57 171.70 101.20 171.70 101.20 171.70 101.60 171.70 102.01 171.70 102.41 171.71 102.81 171.71 103.21 171.71 103.61 171.72 104.02 171.72 104.42 171.73 104.82 171.73 105.22 171.74 105.63 171.75 106.03 171.76 106.43 171.76 106.83 171.77 107.24 171.78 107.64 171.79 108.04 171.80 108.44 171.81 108.84 171.82 109.25 171.83 109.65 171.84 110.05 171.85 110.45 171.87 110.85 171.88 111.26 171.89 111.66 171.90 112.06 171.92 112.46 171.93 112.86 171.94 113.27 171.96 113.67 171.97 114.07 171.99 114.47 172.00 114.87 172.02 115.27 172.03 115.68 172.05 116.08 172.06 116.48 172.08 116.88 172.09 117.28 172.11 117.68 172.12 118.09 172.14 118.49 172.16 118.89 172.17 119.29 172.19 119.69 172.20 120.09 172.22 120.49 172.24 120.90 172.26 121.30 172.28 121.70 172.30 122.10 172.32 122.50 172.35 122.90 172.37 123.30 172.40 123.70 172.43 124.10 172.45 124.51 172.48 124.91 172.51 125.31 172.54 125.71 172.58 126.11 172.61 126.51 172.64 126.91 172.67 127.31 172.71 127.71 172.74 128.11 172.78 128.51 172.81 128.91 172.85 129.31 172.88 129.72 172.92 130.12 172.96 130.52 172.99 130.92 173.03 131.32 173.07 131.72 173.11 132.12 173.14 132.52 173.18 132.92 173.22 133.32 173.26 133.72 173.29 134.12 173.33 134.52 173.37 134.92 173.40 135.32 173.44 135.73 173.48 136.13 173.51 136.53 173.55 136.93 173.58 137.33 173.62 137.73 173.65 138.13 173.68 138.53 173.72 138.93 173.75 139.33 173.78 139.73 173.81 140.13 173.84 140.54 173.87 140.94 173.90 141.34 173.93 141.74 173.96 142.14 173.98 142.54 174.01 142.94 174.04 143.34 174.06 143.75 174.09 144.15 174.12 144.55 174.14 144.95 174.17 145.35 174.20 145.75 174.22 146.16 174.25 146.56 174.27 146.96 174.30 147.36 174.32 147.76 174.35 148.16 174.37 148.57 174.40 148.97 174.42 149.37 174.45 149.77 174.47 150.17 174.50 150.57 174.53 150.98 174.55 151.38 174.58 151.78 174.61 152.18 174.63 152.58 174.66 152.98 174.69 153.38 174.72 153.79 174.75 154.19 174.77 154.59 174.80 154.99 174.83 155.39 174.86 155.79 174.89 156.19 174.93 156.59 174.96 156.99 174.99 157.39 175.02 157.79 175.06 158.19 175.09 158.59 175.13 158.99 175.17 159.39 175.20 159.79 175.24 160.19 175.28 160.59 175.32 160.99 175.36 161.39 175.40 161.79 175.44 162.19 175.49 162.59 175.53 162.99 175.58 163.39 175.62 163.79 175.67 164.19 175.72 164.59 175.76 164.99 175.81 165.39 175.86 165.79 175.92 166.19 175.97 166.59 176.02 166.99 176.08 167.39 176.13 167.79 176.19 168.19 176.24 168.59 176.30 168.99 176.36 169.39 176.42 169.79 176.48 170.19 176.54 170.59 176.60 170.99 176.67 171.39 176.73 171.78 176.80 172.18 176.86 172.58 176.93 172.98 177.00 173.37 177.07 173.77 177.14 174.17 177.21 174.56 177.28 174.96 177.36 175.35 177.43 175.75 177.51 176.14 177.58 176.54 177.66 176.93 177.74 177.32 177.82 177.72 177.90 178.11 177.98 178.50 178.06 178.89 178.14 179.28 178.23 179.67 178.31 180.06 178.40 180.45 178.49 180.83 178.59 181.22 178.68 181.61 178.79 182.00 178.89 182.39 179.00 182.78 179.11 183.17 179.22 183.55 179.33 183.94 179.45 184.33 179.57 184.71 179.70 185.10 179.82 185.48 179.95 185.87 180.08 186.25 180.21 186.64 180.35 187.02 180.48 187.40 180.62 187.78 180.76 188.16 180.91 188.54 181.05 188.92 181.19 189.30 181.34 189.67 181.49 190.05 181.64 190.42 181.79 190.79 181.94 191.16 182.09 191.53 182.25 191.90 182.40 192.26 182.56 192.63 182.71 192.99 182.87 193.36 183.04 193.72 183.20 194.08 183.37 194.45 183.55 194.81 183.72 195.17 183.90 195.53 184.08 195.89 184.26 196.25 184.44 196.61 184.63 196.97 184.82 197.33 185.01 197.68 185.21 198.04 185.40 198.40 185.60 198.75 185.80 199.10 186.00 199.46 186.21 199.81 186.41 200.16 186.62 200.51 186.83 200.86 187.04 201.20 187.25 201.55 187.47 201.89 187.68 202.24 187.90 202.58 188.12 202.92 188.34 203.26 188.56 203.60 188.78 203.94 189.00 204.27 189.23 204.61 189.45 204.94 189.68 205.27 189.91 205.60 190.14 205.93 190.37 206.25 190.60 206.58 190.83 206.90 191.06 207.22 191.29 207.54 191.53 207.86 191.77 208.18 192.01 208.49 192.26 208.81 192.50 209.13 192.75 209.44 193.00 209.76 193.26 210.07 193.51 210.38 193.77 210.69 194.03 211.00 194.29 211.31 194.56 211.62 194.82 211.93 195.09 212.23 195.36 212.54 195.63 212.84 195.90 213.14 196.18 213.44 196.45 213.74 196.73 214.03 197.01 214.33 197.29 214.62 197.57 214.91 197.86 215.20 198.14 215.49 198.43 215.78 198.72 216.06 199.00 216.34 199.29 216.62 199.58 216.90 199.87 217.18 200.16 217.45 200.46 217.72 200.75 217.99 201.04 218.26 201.34 218.53 201.64 218.79 201.94 219.05 202.24 219.31 202.55 219.56 202.86 219.82 203.17 220.07 203.48 220.32 203.80 220.57 204.12 220.82 204.44 221.06 204.76 221.31 205.08 221.55 205.41 221.79 205.73 222.03 206.06 222.26 206.39 222.50 206.72 222.74 207.05 222.97 207.38 223.20 207.71 223.43 208.04 223.66 208.38 223.89 208.71 224.12 209.04 224.35 209.38 224.58 209.71 224.80 210.04 225.03 210.37 225.25 210.70 225.47 211.04 225.70 211.37 225.92 211.71 226.14 212.05 226.36 212.38 226.57 212.72 226.79 213.06 227.01 213.40 227.22 213.74 227.43 214.09 227.65 214.43 227.86 214.77 228.07 215.12 228.27 215.46 228.48 215.81 228.69 216.15 228.89 216.50 229.10 216.85 229.30 217.20 229.50 217.55 229.70 217.90 229.90" fill="none" stroke="#ec0a14" stroke-width="1.5" stroke-linejoin="round" />
<path d="M218.10 230.20 218.90 200.00" fill="none" stroke="#e84848" stroke-width="1.2" stroke-linejoin="round" />
<path d="M218.90 200.00 218.92 199.60 218.94 199.19 218.96 198.79 218.99 198.38 219.01 197.98 219.03 197.58 219.05 197.17 219.07 196.77 219.09 196.36 219.11 195.96 219.13 195.55 219.15 195.15 219.18 194.75 219.20 194.34 219.22 193.94 219.24 193.53 219.26 193.13 219.28 192.72 219.30 192.32 219.32 191.92 219.34 191.51 219.36 191.11 219.38 190.70 219.40 190.30 219.42 189.90 219.44 189.49 219.46 189.09 219.48 188.68 219.50 188.28 219.52 187.87 219.54 187.47 219.56 187.07 219.58 186.66 219.60 186.26 219.62 185.85 219.64 185.45 219.66 185.04 219.68 184.64 219.70 184.24 219.72 183.83 219.74 183.43 219.76 183.02 219.78 182.62 219.80 182.22 219.82 181.81 219.84 181.41 219.86 181.00 219.88 180.60 219.90 180.19 219.92 179.79 219.94 179.39 219.95 178.98 219.97 178.58 219.99 178.17 220.01 177.77 220.03 177.36 220.05 176.96 220.06 176.55 220.08 176.15 220.10 175.75 220.11 175.34 220.13 174.94 220.15 174.53 220.16 174.13 220.18 173.72 220.19 173.32 220.21 172.91 220.22 172.51 220.23 172.10 220.25 171.70 220.26 171.29 220.28 170.89 220.29 170.48 220.30 170.08 220.32 169.67 220.33 169.27 220.34 168.86 220.36 168.46 220.37 168.05 220.39 167.65 220.40 167.24 220.41 166.84 220.43 166.43 220.44 166.03 220.46 165.62 220.47 165.22 220.49 164.81 220.50 164.41 220.52 164.00 220.53 163.60 220.55 163.19 220.57 162.79 220.58 162.38 220.60 161.98 220.62 161.58 220.64 161.17 220.66 160.77 220.68 160.36 220.70 159.96 220.72 159.56 220.74 159.15 220.76 158.75 220.78 158.35 220.81 157.94 220.83 157.54 220.86 157.14 220.88 156.73 220.91 156.33 220.93 155.93 220.96 155.53 220.99 155.12 221.02 154.72 221.05 154.32 221.09 153.91 221.12 153.51 221.16 153.10 221.20 152.69 221.24 152.28 221.29 151.87 221.34 151.47 221.39 151.06 221.44 150.65 221.50 150.24 221.55 149.84 221.61 149.43 221.68 149.03 221.74 148.63 221.81 148.23 221.88 147.83 221.96 147.43 222.04 147.04 222.12 146.65 222.20 146.26 222.29 145.87 222.38 145.49 222.47 145.11 222.57 144.74 222.69 144.36 222.83 143.99 222.98 143.63 223.15 143.26 223.34 142.90 223.53 142.55 223.74 142.19 223.95 141.84 224.17 141.48 224.40 141.14 224.63 140.79 224.86 140.44 225.10 140.10 225.10 140.10 225.13 140.50 225.17 140.90 225.20 141.31 225.23 141.71 225.27 142.11 225.30 142.51 225.34 142.91 225.37 143.31 225.41 143.72 225.44 144.12 225.48 144.52 225.52 144.92 225.55 145.32 225.59 145.72 225.63 146.12 225.66 146.53 225.70 146.93 225.74 147.33 225.78 147.73 225.82 148.13 225.86 148.53 225.89 148.93 225.93 149.33 225.97 149.74 226.01 150.14 226.06 150.54 226.10 150.94 226.14 151.34 226.19 151.74 226.24 152.14 226.29 152.54 226.33 152.94 226.38 153.34 226.43 153.74 226.48 154.14 226.53 154.54 226.59 154.94 226.64 155.34 226.69 155.74 226.73 156.14 226.78 156.55 226.83 156.95 226.88 157.35 226.92 157.75 226.96 158.15 227.01 158.55 227.05 158.95 227.08 159.35 227.12 159.75 227.15 160.15 227.18 160.55 227.21 160.96 227.24 161.36 227.26 161.76 227.29 162.16 227.31 162.56 227.33 162.97 227.35 163.37 227.37 163.77 227.39 164.18 227.41 164.58 227.43 164.98 227.45 165.38 227.47 165.79 227.48 166.19 227.50 166.60 227.51 167.00 227.53 167.40 227.54 167.81 227.56 168.21 227.57 168.61 227.58 169.02 227.60 169.42 227.61 169.83 227.63 170.23 227.64 170.63 227.65 171.04 227.67 171.44 227.68 171.85 227.70 172.25 227.71 172.65 227.73 173.06 227.74 173.46 227.76 173.86 227.77 174.26 227.79 174.67 227.81 175.07 227.83 175.47 227.85 175.87 227.87 176.28 227.89 176.68 227.91 177.08 227.93 177.48 227.96 177.88 227.98 178.28 228.01 178.68 228.03 179.08 228.06 179.48 228.09 179.88 228.12 180.28 228.16 180.68 228.19 181.08 228.23 181.48 228.27 181.88 228.32 182.28 228.37 182.68 228.42 183.09 228.47 183.49 228.52 183.89 228.58 184.29 228.64 184.69 228.70 185.09 228.76 185.49 228.83 185.89 228.89 186.29 228.96 186.69 229.03 187.09 229.11 187.49 229.18 187.89 229.26 188.29 229.34 188.69 229.42 189.09 229.50 189.48 229.58 189.88 229.67 190.28 229.75 190.67 229.84 191.07 229.93 191.47 230.02 191.86 230.11 192.25 230.20 192.65 230.30 193.04 230.39 193.43 230.49 193.82 230.59 194.21 230.68 194.60 230.78 194.99 230.88 195.38 230.98 195.76 231.08 196.15 231.18 196.53 231.28 196.91 231.39 197.30 231.50 197.68 231.62 198.06 231.74 198.45 231.86 198.83 231.99 199.21 232.12 199.59 232.26 199.98 232.39 200.36 232.54 200.74 232.68 201.12 232.83 201.50 232.98 201.87 233.13 202.25 233.29 202.63 233.45 203.00 233.61 203.38 233.78 203.75 233.94 204.12 234.11 204.49 234.28 204.86 234.45 205.23 234.63 205.60 234.80 205.97 234.98 206.33 235.16 206.69 235.34 207.05 235.52 207.41 235.70 207.77 235.89 208.13 236.07 208.48 236.26 208.83 236.44 209.18 236.63 209.53 236.82 209.88 237.02 210.23 237.22 210.58 237.42 210.93 237.63 211.28 237.83 211.63 238.04 211.98 238.26 212.33 238.48 212.67 238.70 213.02 238.92 213.36 239.14 213.70 239.37 214.04 239.60 214.38 239.84 214.72 240.07 215.05 240.31 215.39 240.55 215.72 240.80 216.04 241.04 216.37 241.29 216.69 241.54 217.01 241.80 217.32 242.05 217.63 242.31 217.94 242.57 218.24 242.83 218.54 243.09 218.84 243.36 219.13 243.62 219.42 243.89 219.70 244.17 219.98 244.45 220.26 244.73 220.54 245.02 220.82 245.32 221.09 245.62 221.36 245.92 221.63 246.23 221.89 246.54 222.15 246.85 222.41 247.17 222.67 247.49 222.93 247.81 223.18 248.13 223.43 248.46 223.67 248.79 223.92 249.12 224.16 249.45 224.40 249.79 224.63 250.12 224.86 250.46 225.09 250.79 225.32 251.13 225.54 251.47 225.76 251.80 225.98 252.14 226.19 252.48 226.40 252.82 226.61 253.16 226.81 253.51 227.01 253.85 227.21 254.20 227.41 254.56 227.61 254.91 227.80 255.26 227.99 255.62 228.18 255.98 228.36 256.34 228.54 256.71 228.72 257.07 228.90 257.44 229.07 257.81 229.25 258.18 229.41 258.55 229.58 258.92 229.74 259.30 229.90 259.30 229.90 259.36 229.50 259.42 229.10 259.48 228.70 259.55 228.30 259.61 227.90 259.67 227.50 259.73 227.10 259.80 226.69 259.86 226.29 259.92 225.89 259.99 225.49 260.05 225.09 260.11 224.69 260.18 224.29 260.24 223.89 260.31 223.49 260.37 223.09 260.44 222.69 260.50 222.29 260.57 221.89 260.63 221.49 260.70 221.09 260.77 220.69 260.83 220.29 260.90 219.89 260.97 219.49 261.03 219.09 261.10 218.69 261.17 218.29 261.24 217.89 261.30 217.49 261.37 217.09 261.44 216.69 261.51 216.29 261.58 215.90 261.65 215.50 261.72 215.10 261.78 214.70 261.85 214.30 261.92 213.90 261.99 213.50 262.06 213.10 262.13 212.70 262.20 212.30 262.28 211.90 262.35 211.50 262.42 211.11 262.49 210.71 262.56 210.31 262.63 209.91 262.70 209.51 262.78 209.11 262.85 208.71 262.92 208.31 262.99 207.91 263.07 207.52 263.14 207.12 263.21 206.72 263.29 206.32 263.36 205.92 263.44 205.52 263.51 205.13 263.59 204.73 263.66 204.33 263.74 203.93 263.81 203.53 263.89 203.13 263.96 202.74 264.04 202.34 264.12 201.94 264.19 201.54 264.27 201.14 264.35 200.75 264.42 200.35 264.50 199.95 264.58 199.55 264.66 199.15 264.74 198.76 264.82 198.36 264.89 197.96 264.97 197.56 265.05 197.17 265.13 196.77 265.21 196.37 265.29 195.97 265.37 195.58 265.45 195.18 265.53 194.78 265.61 194.38 265.69 193.99 265.77 193.59 265.85 193.19 265.94 192.79 266.02 192.40 266.10 192.00 266.10 192.00 266.18 192.40 266.26 192.80 266.35 193.20 266.43 193.60 266.52 194.00 266.61 194.39 266.71 194.79 266.80 195.19 266.90 195.58 266.99 195.98 267.09 196.37 267.20 196.76 267.30 197.16 267.41 197.55 267.51 197.94 267.62 198.33 267.73 198.72 267.84 199.11 267.96 199.50 268.07 199.89 268.19 200.28 268.31 200.66 268.43 201.05 268.55 201.43 268.67 201.82 268.79 202.20 268.92 202.59 269.04 202.97 269.17 203.35 269.30 203.73 269.43 204.11 269.56 204.49 269.69 204.87 269.82 205.25 269.96 205.63 270.10 206.01 270.24 206.39 270.38 206.77 270.53 207.15 270.67 207.53 270.82 207.90 270.98 208.28 271.13 208.66 271.29 209.03 271.45 209.41 271.61 209.78 271.77 210.16 271.94 210.53 272.11 210.90 272.28 211.27 272.45 211.64 272.62 212.01 272.80 212.38 272.98 212.75 273.16 213.11 273.34 213.47 273.52 213.83 273.71 214.20 273.89 214.55 274.08 214.91 274.27 215.27 274.46 215.62 274.66 215.97 274.85 216.32 275.05 216.67 275.26 217.01 275.46 217.35 275.68 217.70 275.89 218.04 276.11 218.38 276.34 218.71 276.57 219.05 276.80 219.38 277.03 219.72 277.27 220.05 277.51 220.38 277.75 220.71 278.00 221.03 278.24 221.36 278.49 221.68 278.74 222.00 278.99 222.32 279.24 222.64 279.49 222.96 279.74 223.28 279.99 223.59 280.25 223.91 280.50 224.22 280.76 224.53 281.02 224.84 281.28 225.15 281.54 225.46 281.81 225.76 282.07 226.07 282.34 226.37 282.61 226.67 282.88 226.97 283.16 227.27 283.43 227.57 283.71 227.87 283.99 228.16 284.27 228.45 284.55 228.75 284.84 229.04 285.12 229.33 285.41 229.61 285.70 229.90" fill="none" stroke="#ec0a14" stroke-width="1.5" stroke-linejoin="round" />
<line x1="55.5" y1="42" x2="55.5" y2="246.5" stroke="#e03c3c" stroke-width="1"/>
<line x1="52" y1="50.69999999999999" x2="55.5" y2="50.69999999999999" stroke="#e03c3c" stroke-width="1"/>
<text x="48.8" y="55.79999999999999" font-size="16" fill="#ec0a14" text-anchor="end" font-weight="normal" stroke="#ec0a14" stroke-width="0.3" >7.6</text>
<line x1="52" y1="89.89999999999995" x2="55.5" y2="89.89999999999995" stroke="#e03c3c" stroke-width="1"/>
<text x="48.8" y="94.99999999999994" font-size="16" fill="#ec0a14" text-anchor="end" font-weight="normal" stroke="#ec0a14" stroke-width="0.3" >7.2</text>
<line x1="52" y1="129.09999999999997" x2="55.5" y2="129.09999999999997" stroke="#e03c3c" stroke-width="1"/>
<text x="48.8" y="134.19999999999996" font-size="16" fill="#ec0a14" text-anchor="end" font-weight="normal" stroke="#ec0a14" stroke-width="0.3" >6.8</text>
<line x1="52" y1="168.29999999999993" x2="55.5" y2="168.29999999999993" stroke="#e03c3c" stroke-width="1"/>
<text x="48.8" y="173.39999999999992" font-size="16" fill="#ec0a14" text-anchor="end" font-weight="normal" stroke="#ec0a14" stroke-width="0.3" >6.4</text>
<line x1="52" y1="207.49999999999994" x2="55.5" y2="207.49999999999994" stroke="#e03c3c" stroke-width="1"/>
<text x="48.8" y="212.59999999999994" font-size="16" fill="#ec0a14" text-anchor="end" font-weight="normal" stroke="#ec0a14" stroke-width="0.3" >6.0</text>
<line x1="52" y1="246.7" x2="55.5" y2="246.7" stroke="#e03c3c" stroke-width="1"/>
<text x="48.8" y="251.79999999999998" font-size="16" fill="#ec0a14" text-anchor="end" font-weight="normal" stroke="#ec0a14" stroke-width="0.3" >5.6</text>
<line x1="311.5" y1="41" x2="311.5" y2="246.5" stroke="#4848d8" stroke-width="1"/>
<line x1="311.5" y1="42.30000000000001" x2="315.0" y2="42.30000000000001" stroke="#4848d8" stroke-width="1"/>
<text x="317.2" y="47.40000000000001" font-size="15" fill="#1010e6" text-anchor="start" font-weight="normal" stroke="#1010e6" stroke-width="0.3" >40</text>
<line x1="311.5" y1="73.60000000000001" x2="315.0" y2="73.60000000000001" stroke="#4848d8" stroke-width="1"/>
<text x="317.6" y="78.7" font-size="15" fill="#1010e6" text-anchor="start" font-weight="normal" stroke="#1010e6" stroke-width="0.3" >30</text>
<line x1="311.5" y1="104.9" x2="315.0" y2="104.9" stroke="#4848d8" stroke-width="1"/>
<text x="317.9" y="110.0" font-size="15" fill="#1010e6" text-anchor="start" font-weight="normal" stroke="#1010e6" stroke-width="0.3" >20</text>
<line x1="311.5" y1="136.2" x2="315.0" y2="136.2" stroke="#4848d8" stroke-width="1"/>
<text x="316.6" y="141.29999999999998" font-size="15" fill="#1010e6" text-anchor="start" font-weight="normal" stroke="#1010e6" stroke-width="0.3" >10</text>
<line x1="311.5" y1="167.5" x2="315.0" y2="167.5" stroke="#4848d8" stroke-width="1"/>
<text x="319.3" y="172.6" font-size="15" fill="#1010e6" text-anchor="start" font-weight="normal" stroke="#1010e6" stroke-width="0.3" >0</text>
<line x1="311.5" y1="198.8" x2="315.0" y2="198.8" stroke="#4848d8" stroke-width="1"/>
<text x="317.6" y="203.9" font-size="15" fill="#1010e6" text-anchor="start" font-weight="normal" stroke="#1010e6" stroke-width="0.3" >-10</text>
<line x1="311.5" y1="230.1" x2="315.0" y2="230.1" stroke="#4848d8" stroke-width="1"/>
<text x="318.6" y="235.2" font-size="15" fill="#1010e6" text-anchor="start" font-weight="normal" stroke="#1010e6" stroke-width="0.3" >-20</text>
<line x1="55.5" y1="246.5" x2="311.5" y2="246.5" stroke="#333" stroke-width="1"/>
<line x1="77.5" y1="246.5" x2="77.5" y2="250.5" stroke="#333" stroke-width="1"/>
<text x="77.3" y="265.6" font-size="16" fill="#151515" text-anchor="middle" font-weight="normal" stroke="#151515" stroke-width="0.3" >0</text>
<line x1="121.1" y1="246.5" x2="121.1" y2="250.5" stroke="#333" stroke-width="1"/>
<text x="120.89999999999999" y="265.6" font-size="16" fill="#151515" text-anchor="middle" font-weight="normal" stroke="#151515" stroke-width="0.3" >30</text>
<line x1="164.7" y1="246.5" x2="164.7" y2="250.5" stroke="#333" stroke-width="1"/>
<text x="164.5" y="265.6" font-size="16" fill="#151515" text-anchor="middle" font-weight="normal" stroke="#151515" stroke-width="0.3" >60</text>
<line x1="208.3" y1="246.5" x2="208.3" y2="250.5" stroke="#333" stroke-width="1"/>
<text x="208.10000000000002" y="265.6" font-size="16" fill="#151515" text-anchor="middle" font-weight="normal" stroke="#151515" stroke-width="0.3" >90</text>
<line x1="251.9" y1="246.5" x2="251.9" y2="250.5" stroke="#333" stroke-width="1"/>
<text x="251.70000000000002" y="265.6" font-size="16" fill="#151515" text-anchor="middle" font-weight="normal" stroke="#151515" stroke-width="0.3" >120</text>
<line x1="295.5" y1="246.5" x2="295.5" y2="250.5" stroke="#333" stroke-width="1"/>
<text x="295.3" y="265.6" font-size="16" fill="#151515" text-anchor="middle" font-weight="normal" stroke="#151515" stroke-width="0.3" >150</text>
<text x="189.5" y="283.5" font-size="15.8" fill="#151515" text-anchor="middle" font-weight="normal" stroke="#151515" stroke-width="0.3" >Time (min)</text>
<text x="0" y="0" font-size="16" fill="#ec0a14" text-anchor="middle" font-weight="normal" stroke="#ec0a14" stroke-width="0.3" transform="translate(14.0,146.0) rotate(-90)">Resistance (kΩ)</text>
<text x="0" y="0" font-size="15.65" fill="#1010e6" text-anchor="middle" font-weight="normal" stroke="#1010e6" stroke-width="0.3" transform="translate(356.1,141.3) rotate(-90) scale(1,1.11)">Rate of Change (Ω s<tspan font-size="8.5" dy="-6.5">-1</tspan><tspan dy="6.5">)</tspan></text>
<text x="383.4" y="15.0" font-size="18.7" fill="#000" text-anchor="start" font-weight="bold" >b</text>
<line x1="488.4" y1="6.0" x2="504.6" y2="6.0" stroke="#f07878" stroke-width="1.4"/>
<text x="512.7" y="11.2" font-size="12.6" fill="#151515" text-anchor="start" font-weight="normal" stroke="#151515" stroke-width="0.3" >760 Ω Sensor Resistance</text>
<line x1="488.4" y1="20.5" x2="504.6" y2="20.5" stroke="#3a3ae0" stroke-width="1"/>
<text x="513.0" y="25.8" font-size="12.7" fill="#151515" text-anchor="start" font-weight="normal" stroke="#151515" stroke-width="0.3" >760 Ω Sensor Rate of change</text>
<text x="444.5" y="54.1" font-size="12.8" fill="#2a2a2a" text-anchor="start" font-weight="normal" stroke="#2a2a2a" stroke-width="0.3" >700 ppb</text>
<text x="520.8" y="104.4" font-size="12.8" fill="#2a2a2a" text-anchor="start" font-weight="normal" stroke="#2a2a2a" stroke-width="0.3" >500 ppb</text>
<text x="574.0" y="129.5" font-size="12.8" fill="#2a2a2a" text-anchor="start" font-weight="normal" stroke="#2a2a2a" stroke-width="0.3" >300 ppb</text>
<text x="618.1" y="151.6" font-size="12.8" fill="#2a2a2a" text-anchor="start" font-weight="normal" stroke="#2a2a2a" stroke-width="0.3" >100 ppb</text>
<path d="M457.10 229.34 457.60 228.90 458.10 229.05 458.60 229.15 459.10 229.15 459.60 229.98 460.10 229.78 460.60 229.63 461.10 229.80 461.60 230.49 462.10 230.11 462.60 229.93 463.10 230.61 463.60 230.55 464.10 230.99 464.60 230.20 465.10 230.67 465.60 231.12 466.10 231.24 466.60 231.41 466.80 231.10" fill="none" stroke="#ec0a14" stroke-width="1.6" stroke-linejoin="round" />
<path d="M472.80 64.48 472.84 65.19 472.87 65.60 472.91 66.18 472.94 67.26 472.98 67.53 473.02 68.31 473.05 68.46 473.09 69.32 473.12 69.54 473.16 69.93 473.19 70.80 473.23 71.44 473.27 71.42 473.30 72.33 473.34 72.91 473.38 73.20 473.42 73.87 473.46 74.30 473.50 74.94 473.54 75.56 473.58 76.40 473.62 77.02 473.66 77.30 473.70 77.75 473.74 78.55 473.78 79.38 473.82 79.62 473.86 80.26 473.90 80.73 473.94 81.70 473.98 82.07 474.02 82.28 474.07 82.91 474.11 83.72 474.16 84.43 474.20 85.10 474.24 85.24 474.28 85.83 474.32 86.73 474.36 87.06 474.41 87.64 474.46 88.32 474.52 89.43 474.57 89.61 474.61 90.42 474.66 90.91 474.71 91.55 474.76 92.47 474.81 93.17 474.86 93.32 474.91 93.80 474.97 94.76 475.02 94.99 475.07 95.44 475.13 96.65 475.19 96.91 475.25 97.79 475.30 98.09 475.37 99.04 475.43 99.36 475.50 99.76 475.57 100.29 475.64 101.29 475.72 101.97 475.79 102.79 475.87 102.84 475.95 103.84 476.03 104.28 476.11 105.00 476.19 105.38 476.27 106.10 476.36 106.89 476.44 107.80 476.53 107.85 476.62 108.74 476.70 109.59 476.79 110.33 476.88 110.41 476.97 110.99 477.06 112.19 477.15 112.83 477.24 113.11 477.32 113.44 477.41 114.67 477.50 114.92 477.58 115.91 477.67 116.33 477.75 117.10 477.84 117.26 477.92 118.33 478.00 118.56 478.08 119.31 478.16 120.24 478.24 120.86 478.32 121.03 478.41 121.68 478.49 122.43 478.57 123.14 478.66 123.67 478.75 124.11 478.84 124.82 478.94 125.78 479.03 126.53 479.14 126.55 479.24 127.54 479.35 128.31 479.46 128.43 479.58 129.61 479.70 129.73 479.83 130.69 479.96 131.29 480.09 131.96 480.22 132.36 480.36 133.07 480.50 133.81 480.64 134.32 480.79 135.11 480.93 135.59 481.09 136.21 481.24 136.54 481.39 137.58 481.56 138.12 481.72 138.56 481.88 139.56 482.05 140.20 482.22 140.60 482.39 141.03 482.57 141.86 482.75 142.22 482.93 142.86 483.12 143.70 483.31 144.09 483.50 144.96 483.65 145.48 483.80 145.63 483.96 146.53 484.11 146.62 484.27 147.56 484.44 148.08 484.60 148.39 484.77 148.56 484.94 149.36 485.11 149.77 485.29 150.67 485.46 150.59 485.64 151.59 485.82 152.18 486.00 152.48 486.18 153.03 486.36 153.08 486.54 154.11 486.72 154.25 486.90 155.06 487.14 155.65 487.38 155.75 487.62 156.80 487.86 157.49 488.09 157.47 488.32 158.26 488.55 159.09 488.77 159.22 489.00 160.28 489.22 160.33 489.44 161.20 489.66 161.22 489.98 162.13 490.31 163.08 490.63 163.18 490.96 163.82 491.27 164.56 491.59 165.00 491.91 165.36 492.22 166.03 492.53 166.59 492.83 167.71 493.13 168.15 493.43 168.92 493.71 169.09 494.00 170.20 494.18 170.23 494.35 171.01 494.53 171.58 494.68 171.91 494.84 172.80 494.99 173.10 495.14 173.66 495.28 174.42 495.43 174.42 495.57 175.60 495.71 175.91 495.86 176.30 496.00 177.15 496.15 177.34 496.30 178.41 496.47 178.68 496.63 179.09 496.79 179.94 496.98 180.26 497.16 180.63 497.35 181.57 497.57 181.62 497.78 182.69 498.00 182.83 498.26 183.63 498.52 184.40 498.78 184.66 499.09 185.26 499.39 185.56 499.69 185.89 500.02 186.46 500.35 187.09 500.68 187.96 501.03 188.37 501.37 188.97 501.71 189.78 502.05 189.76 502.39 190.35 502.73 191.16 503.05 191.21 503.38 191.68 503.70 192.41 503.99 192.68 504.28 193.30 504.57 193.65 504.94 194.48 505.30 195.06 505.57 195.26 505.85 196.01 506.24 196.61 506.52 196.91 506.76 197.93 507.00 197.89 507.30 198.32 507.72 198.90 508.01 199.69 508.30 200.26 508.65 200.70 509.01 200.93 509.38 201.38 509.76 201.76 510.17 202.80 510.58 203.34 510.88 203.61 511.18 204.24 511.48 204.52 511.82 205.31 512.15 205.61 512.49 205.71 512.86 206.62 513.24 206.47 513.61 207.26 514.03 207.64 514.46 207.98 514.88 208.31 515.35 209.28 515.83 209.20 516.30 210.04 516.71 210.67 517.13 210.47 517.54 210.86 517.95 211.51 518.43 211.82 518.90 212.29 519.38 212.79 519.85 212.72 520.27 213.13 520.68 213.44 521.10 213.58 521.51 214.48 521.92 214.72 522.36 214.99 522.79 214.82 523.23 215.72 523.66 215.97 524.10 216.09 524.54 216.60 524.98 216.72 525.42 216.87 525.87 217.11 526.31 217.51 526.74 217.68 527.17 218.19 527.61 218.79 528.04 219.06 528.47 219.47 528.88 219.66 529.30 219.64 529.71 220.13 530.12 220.34 530.53 220.87 531.00 221.02 531.46 221.17 531.93 221.77 532.40 222.33 532.84 222.12 533.29 222.89 533.73 222.60 534.18 223.09 534.63 223.38 535.07 224.04 535.52 224.49 535.97 224.66 536.41 224.67 536.85 225.35 537.29 225.26 537.73 225.50 538.15 226.24 538.57 226.33 538.99 226.65 539.41 226.92 539.92 227.48 540.44 227.46 540.96 228.06 541.42 228.27 541.88 228.68 542.34 228.69 542.92 229.28 543.50 229.55 543.95 229.67 544.40 229.90" fill="none" stroke="#ec0a14" stroke-width="1.6" stroke-linejoin="round" />
<path d="M552.00 114.49 552.05 114.70 552.11 115.87 552.16 115.86 552.20 116.30 552.25 116.87 552.30 118.07 552.36 118.27 552.41 118.75 552.46 119.19 552.51 119.72 552.55 120.69 552.60 121.17 552.65 121.77 552.70 122.35 552.75 122.43 552.81 123.35 552.86 123.76 552.92 124.65 552.97 125.22 553.03 125.84 553.08 125.83 553.14 126.95 553.20 127.55 553.26 128.14 553.32 128.10 553.38 128.71 553.44 129.19 553.50 129.67 553.56 130.79 553.63 131.31 553.69 131.73 553.76 132.40 553.83 132.84 553.90 133.18 553.97 133.62 554.04 134.19 554.12 135.24 554.20 135.45 554.27 136.12 554.35 136.78 554.43 137.10 554.50 137.86 554.58 138.48 554.66 139.38 554.74 139.72 554.82 140.28 554.90 141.32 554.98 141.59 555.06 142.40 555.14 142.81 555.22 142.97 555.30 143.80 555.38 144.36 555.45 145.13 555.53 145.37 555.61 146.16 555.68 146.54 555.75 146.81 555.83 147.76 555.90 147.71 555.99 148.82 556.08 148.97 556.17 149.45 556.26 150.15 556.34 151.10 556.42 151.80 556.51 151.64 556.59 152.50 556.67 153.02 556.79 153.97 556.91 154.28 557.04 155.20 557.16 155.80 557.29 156.83 557.42 157.11 557.56 158.27 557.70 158.49 557.85 159.12 558.00 160.14 558.15 160.62 558.30 160.97 558.44 161.86 558.58 162.00 558.86 163.44 559.16 164.33 559.33 164.91 559.51 165.33 559.71 165.76 559.91 166.42 560.08 166.94 560.24 167.80 560.40 167.76 560.55 168.81 560.70 168.69 560.85 169.31 561.00 169.83 561.15 170.79 561.29 171.02 561.44 171.44 561.59 172.30 561.74 172.36 561.88 173.04 562.03 173.61 562.17 174.28 562.32 174.80 562.46 175.25 562.61 175.56 562.74 176.04 562.88 176.42 563.02 177.40 563.16 177.77 563.29 178.33 563.43 178.43 563.57 179.11 563.72 179.87 563.86 180.26 564.01 180.46 564.16 181.22 564.30 182.04 564.45 182.11 564.59 182.60 564.74 183.19 564.89 183.99 565.04 184.60 565.19 184.64 565.34 185.16 565.49 185.74 565.64 186.31 565.78 186.93 565.93 187.16 566.08 187.76 566.22 188.14 566.37 189.17 566.51 189.48 566.66 189.53 566.82 190.62 566.98 190.50 567.14 191.19 567.31 192.09 567.47 192.45 567.63 192.89 567.85 193.25 568.06 193.65 568.28 194.53 568.50 194.72 568.75 195.30 569.00 195.94 569.24 196.20 569.56 196.93 569.88 197.67 570.46 198.12 571.02 198.25 571.62 198.51 572.28 198.63 573.06 198.88 573.53 199.64 574.00 199.93 574.38 200.59 574.77 201.13 575.15 201.22 575.48 201.70 575.81 202.20 576.14 202.35 576.48 202.59 576.84 203.36 577.20 203.89 577.57 204.24 577.93 204.60 578.31 205.16 578.69 205.48 579.08 205.90 579.46 206.22 579.84 206.57 580.22 207.25 580.61 207.33 580.99 208.01 581.36 208.71 581.74 209.10 582.11 209.49 582.48 209.67 582.83 210.21 583.18 210.65 583.52 211.18 583.87 211.45 584.28 212.13 584.69 212.81 585.10 212.78 585.45 213.55 585.80 214.07 586.15 214.24 586.46 214.72 586.77 215.47 587.08 215.22 587.49 216.15 587.91 216.45 588.30 217.43 588.69 218.09 589.07 218.32 589.46 218.56 589.86 219.41 590.26 219.91 590.69 220.55 591.12 220.93 591.61 221.56 592.10 222.23 592.48 222.40 592.87 222.70 593.25 223.46 593.69 223.35 594.12 224.08 594.56 224.28 595.03 224.96 595.50 224.92 595.97 225.94 596.44 225.90 596.91 226.10 597.39 226.65 597.84 227.12 598.30 227.23 598.75 227.90 599.17 228.24 599.58 228.78 599.99 228.88 600.51 229.25 601.03 229.65 601.42 230.34 601.80 230.81" fill="none" stroke="#ec0a14" stroke-width="1.6" stroke-linejoin="round" />
<path d="M604.50 175.02 604.53 174.08 604.57 173.77 604.59 172.96 604.61 172.32 604.63 171.75 604.65 171.68 604.67 171.09 604.69 170.34 604.72 169.61 604.74 169.06 604.76 168.29 604.78 168.27 604.81 167.31 604.83 166.97 604.85 166.57 604.88 166.04 604.90 165.26 604.93 164.61 604.95 164.26 604.98 163.43 605.02 163.32 605.05 162.38 605.09 162.13 605.13 161.11 605.19 160.53 605.24 159.79 605.30 159.26 605.40 158.43 605.50 157.65 605.72 157.42 605.96 156.70 606.22 156.58 606.51 156.83 606.81 157.45 607.15 158.17 607.33 158.83 607.51 159.35 607.70 159.77 607.90 160.80 608.04 161.29 608.18 161.27 608.32 162.35 608.43 162.92 608.54 163.34 608.65 163.40 608.76 164.40 608.87 164.86 608.99 165.02 609.10 165.61 609.22 166.86 609.32 167.18 609.42 167.41 609.52 167.83 609.61 168.38 609.71 168.97 609.82 169.90 609.92 170.15 610.03 170.56 610.13 171.64 610.23 172.11 610.34 172.23 610.46 173.29 610.57 173.65 610.68 174.33 610.79 174.81 610.91 175.51 611.02 175.99 611.14 176.57 611.26 176.66 611.38 177.56 611.50 177.96 611.63 178.62 611.75 178.93 611.88 179.75 612.00 180.04 612.13 180.34 612.27 180.82 612.40 181.26 612.53 182.01 612.67 182.21 612.81 183.02 612.95 183.32 613.10 184.08 613.24 184.61 613.38 185.16 613.53 185.91 613.68 185.84 613.83 186.95 613.98 187.22 614.13 187.81 614.29 188.41 614.44 189.06 614.60 189.26 614.76 189.82 614.91 190.73 615.07 190.63 615.23 191.54 615.40 192.05 615.56 192.14 615.72 193.07 615.88 193.62 616.05 194.29 616.21 194.37 616.37 195.32 616.54 195.49 616.75 196.06 616.95 196.93 617.16 196.92 617.37 197.98 617.58 198.46 617.78 198.80 617.99 199.71 618.20 199.91 618.40 200.46 618.60 200.98 618.80 201.63 619.00 201.72 619.26 202.45 619.51 203.00 619.76 203.66 620.02 204.37 620.27 204.50 620.52 205.39 620.78 205.58 621.04 206.14 621.30 206.46 621.58 207.10 621.86 207.91 622.14 208.17 622.44 208.76 622.75 208.94 623.06 209.43 623.41 209.96 623.76 210.70 624.10 211.27 624.40 211.83 624.70 211.77 625.00 212.70 625.30 213.27 625.59 213.46 625.89 213.54 626.18 214.15 626.47 214.37 626.77 214.93 627.06 215.85 627.35 216.03 627.64 216.48 627.94 216.98 628.23 217.47 628.52 217.67 628.84 218.11 629.16 218.55 629.49 219.04 629.81 219.40 630.13 219.90 630.45 220.01 630.78 220.77 631.12 221.06 631.45 221.72 631.78 221.70 632.11 222.20 632.44 222.54 632.77 223.48 633.09 224.00 633.41 224.25 633.73 224.47 634.06 225.21 634.38 225.61 634.73 225.92 635.09 226.17 635.44 226.66 635.79 227.21 636.14 227.60 636.51 228.16 636.88 228.80 637.25 229.49 637.62 229.36 637.98 230.19 638.34 230.30 638.70 230.83" fill="none" stroke="#ec0a14" stroke-width="1.6" stroke-linejoin="round" />
<path d="M644.70 205.22 644.97 205.57 645.24 206.32 645.48 206.45 645.72 206.61 645.96 207.32 646.25 208.02 646.54 208.81 646.83 209.39 647.07 209.50 647.32 209.93 647.56 210.17 647.81 211.02 648.07 211.22 648.34 211.68 648.61 212.08 648.88 212.58 649.16 213.57 649.44 213.70 649.72 214.81 650.00 214.71 650.26 215.74 650.53 215.70 650.79 216.10 651.05 217.07 651.32 217.22 651.58 218.03 651.84 218.12 652.10 218.49 652.36 219.47 652.62 219.89 652.88 220.46 653.16 220.87 653.43 220.91 653.71 221.78 653.98 222.33 654.26 222.65 654.53 223.48 654.79 223.47 655.06 224.44 655.32 224.74 655.58 224.71 655.84 225.19 656.11 226.10 656.38 226.70 656.64 226.66 656.91 227.31 657.18 228.08 657.45 228.16 657.77 229.22 658.08 229.52 658.40 229.79" fill="none" stroke="#ec0a14" stroke-width="1.6" stroke-linejoin="round" />
<path d="M457.00 179.13 457.06 187.09 457.11 181.70 457.17 185.47 457.22 190.74 457.28 175.40 457.33 188.34 457.39 183.22 457.44 173.07 457.50 187.89 457.55 190.26 457.61 169.18 457.66 170.93 457.72 195.16 457.77 188.12 457.83 194.29 457.88 173.47 457.94 188.21 457.99 165.61 458.05 184.66 458.10 167.06 458.16 182.63 458.21 185.43 458.27 176.77 458.32 186.88 458.38 188.50 458.43 179.44 458.49 181.16 458.54 184.54 458.60 179.25 458.65 166.90 458.71 171.95 458.76 182.22 458.82 173.75 458.87 168.54 458.93 177.91 458.98 172.70 459.04 178.11 459.09 198.43 459.15 165.46 459.20 170.16 459.26 188.67 459.31 190.88 459.37 175.53 459.42 190.84 459.48 192.11 459.53 175.06 459.59 199.64 459.64 166.23 459.70 176.28 459.75 159.02 459.81 182.92 459.86 192.13 459.92 190.56 459.97 171.65 460.03 172.83 460.08 167.75 460.14 168.94 460.19 165.21 460.25 189.40 460.30 191.62 460.36 175.52 460.41 190.85 460.47 173.00 460.52 177.53 460.58 168.92 460.63 180.28 460.69 188.40 460.74 173.34 460.80 171.38 460.85 177.36 460.91 193.39 460.96 188.83 461.02 172.13 461.07 168.42 461.13 200.60 461.18 175.13 461.24 159.47 461.29 173.10 461.35 171.66 461.40 165.03 461.46 179.64 461.51 177.35 461.57 168.36 461.62 185.64 461.68 166.72 461.73 178.28 461.79 184.78 461.84 182.07 461.90 166.66 461.95 165.48 462.01 171.41 462.06 194.17 462.12 166.38 462.17 168.45 462.23 186.85 462.28 168.49 462.34 180.01 462.39 180.07 462.45 194.22 462.50 185.29 462.56 187.17 462.61 178.28 462.67 180.09 462.72 166.26 462.78 167.63 462.83 187.51 462.89 170.35 462.94 180.10 463.00 167.21 463.05 187.84 463.11 167.14 463.16 168.34 463.22 167.03 463.27 179.38 463.33 170.52 463.38 174.26 463.44 179.60 463.49 190.57 463.55 173.15 463.60 192.23 463.66 193.45 463.71 176.89 463.77 197.18 463.82 175.76 463.88 166.17 463.93 179.17 463.99 190.39 464.04 184.23 464.10 195.03 464.15 158.48 464.21 172.25 464.26 170.19 464.32 171.17 464.37 177.49 464.43 182.23 464.48 182.20 464.54 177.27 464.59 169.38 464.65 176.35 464.70 172.64 464.76 183.23 464.81 183.22 464.87 182.96 464.92 177.97 464.98 171.75 465.03 181.99 465.09 175.00 465.14 177.70 465.20 191.18 465.25 168.45 465.31 175.92 465.36 173.96 465.42 171.68 465.47 188.76 465.53 173.20 465.58 189.15 465.64 179.26 465.69 185.14 465.75 183.00 465.80 162.47 465.86 157.19 465.91 178.25 465.97 176.32 466.00 189.30 466.06 175.86 466.11 169.37 466.17 170.70 466.22 182.65 466.28 167.00 466.33 173.55 466.39 162.38 466.44 186.28 466.50 154.53 466.55 180.82 466.61 151.85 466.66 180.65 466.72 181.57 466.77 165.31 466.83 166.56 466.88 178.26 466.94 157.54 466.99 162.33 467.05 161.21 467.10 164.54 467.16 150.03 467.21 172.12 467.27 182.45 467.32 145.90 467.38 169.80 467.43 187.25 467.49 152.88 467.54 147.52 467.60 144.42 467.65 157.50 467.71 141.70 467.76 165.93 467.82 149.42 467.87 160.11 467.93 140.29 467.98 159.88 468.04 172.36 468.09 138.62 468.15 137.63 468.20 166.55 468.26 165.33 468.31 144.89 468.37 146.41 468.42 169.68 468.48 143.65 468.53 168.24 468.59 168.53 468.64 132.34 468.70 174.83 468.75 168.20 468.81 168.95 468.86 169.74 468.92 139.88 468.97 163.53 469.03 136.33 469.08 137.85 469.14 133.17 469.19 144.58 469.25 164.41 469.30 139.46 469.36 131.16 469.41 144.61 469.47 142.26 469.52 124.65 469.58 165.04 469.63 159.02 469.69 171.12 469.74 142.68 469.80 134.66 469.85 156.81 469.91 139.12 469.96 139.65 470.02 152.65 470.07 161.34 470.13 145.47 470.18 136.23 470.24 161.80 470.29 154.04 470.35 136.51 470.40 143.77 470.46 151.34 470.51 171.53 470.57 177.27 470.62 147.89 470.68 149.51 470.73 161.26 470.79 146.59 470.84 142.86 470.90 172.22 470.95 137.37 471.01 145.71 471.06 152.23 471.12 147.60 471.17 148.53 471.23 166.23 471.28 175.96 471.34 144.42 471.39 167.28 471.45 154.67 471.50 178.22 471.56 148.52 471.61 173.66 471.67 151.95 471.72 175.16 471.78 176.13 471.83 166.76 471.89 168.29 471.94 149.51 472.00 154.19 472.05 169.20 472.11 177.21 472.16 165.09 472.22 164.17 472.27 162.67 472.33 165.85 472.38 175.26 472.44 187.55 472.49 180.07 472.70 190.00 473.10 222.50 473.50 188.00 473.50 193.62 473.56 188.57 473.61 193.26 473.67 178.82 473.72 179.53 473.78 189.89 473.83 184.20 473.89 176.04 473.94 197.88 474.00 190.77 474.05 188.13 474.11 183.91 474.16 171.77 474.22 190.98 474.27 196.07 474.33 174.35 474.38 192.57 474.44 187.72 474.49 203.03 474.55 193.15 474.60 174.69 474.66 176.90 474.71 184.71 474.77 173.59 474.82 188.71 474.88 203.70 474.93 183.12 474.99 178.77 475.04 175.24 475.10 197.43 475.15 176.29 475.21 172.11 475.26 180.79 475.32 187.76 475.37 182.67 475.43 193.70 475.48 182.52 475.54 180.42 475.59 183.69 475.65 205.60 475.70 204.73 475.76 189.47 475.81 165.38 475.87 186.85 475.92 183.44 475.98 180.08 476.03 195.27 476.09 182.92 476.14 187.63 476.20 185.95 476.25 181.86 476.31 186.24 476.36 194.35 476.42 172.45 476.47 185.44 476.53 186.98 476.58 173.54 476.64 170.71 476.69 190.60 476.75 175.24 476.80 192.86 476.86 176.39 476.91 173.88 476.97 172.13 477.02 187.49 477.08 178.29 477.13 189.17 477.19 186.65 477.24 199.87 477.30 189.53 477.35 190.23 477.41 178.77 477.46 195.92 477.52 172.76 477.57 193.76 477.63 178.70 477.68 183.08 477.74 169.75 477.79 192.42 477.85 190.01 477.90 175.05 477.96 191.20 478.01 162.84 478.07 172.28 478.12 163.75 478.18 192.28 478.23 180.22 478.29 179.10 478.34 188.44 478.40 179.14 478.45 194.03 478.51 179.72 478.56 184.99 478.62 186.35 478.67 167.82 478.73 174.77 478.78 177.27 478.84 186.59 478.89 196.15 478.95 190.84 479.00 195.32 479.06 186.62 479.11 199.54 479.17 191.29 479.22 191.21 479.28 183.10 479.33 180.22 479.39 177.73 479.44 182.53 479.50 175.95 479.55 193.87 479.61 181.16 479.66 171.33 479.72 178.03 479.77 176.51 479.83 186.95 479.88 173.42 479.94 195.43 479.99 194.62 480.05 183.55 480.10 169.95 480.16 176.84 480.21 174.52 480.27 192.71 480.32 195.24 480.38 172.64 480.43 171.53 480.49 185.25 480.54 170.85 480.60 188.94 480.65 180.26 480.71 180.06 480.76 186.00 480.82 177.62 480.87 171.18 480.93 160.07 480.98 188.61 481.04 172.47 481.09 172.51 481.15 179.81 481.20 184.12 481.26 178.03 481.31 176.14 481.37 176.28 481.42 195.18 481.48 195.20 481.53 168.35 481.59 179.55 481.64 168.89 481.70 172.48 481.75 183.16 481.81 175.30 481.86 173.93 481.92 194.49 481.97 176.23 482.03 182.91 482.08 179.10 482.14 192.79 482.19 190.56 482.25 193.34 482.30 182.76 482.36 188.38 482.41 177.41 482.47 181.19 482.52 187.41 482.58 196.49 482.63 193.94 482.69 172.85 482.74 191.39 482.80 194.28 482.85 186.87 482.91 192.53 482.96 192.06 483.02 169.15 483.07 204.08 483.13 171.29 483.18 197.79 483.24 189.28 483.29 173.65 483.35 193.66 483.40 193.32 483.46 190.60 483.51 169.53 483.57 172.04 483.62 195.14 483.68 184.25 483.73 181.43 483.79 190.50 483.84 171.51 483.90 176.21 483.95 196.23 484.01 192.62 484.06 173.91 484.12 183.26 484.17 184.08 484.23 186.88 484.28 182.91 484.34 191.99 484.39 175.06 484.45 194.63 484.50 173.60 484.56 156.87 484.61 194.05 484.67 176.95 484.72 173.17 484.78 163.19 484.83 176.35 484.89 182.80 484.94 191.63 485.00 182.97 485.05 196.02 485.11 180.65 485.16 178.28 485.22 177.48 485.27 183.89 485.33 194.89 485.38 187.34 485.44 172.66 485.49 183.71 485.55 183.49 485.60 190.47 485.66 187.24 485.71 162.81 485.77 189.53 485.82 166.22 485.88 176.47 485.93 183.34 485.99 171.85 486.04 195.45 486.10 189.43 486.15 172.53 486.21 174.44 486.26 177.92 486.32 184.41 486.37 173.53 486.43 174.61 486.48 164.78 486.54 192.35 486.59 187.41 486.65 171.02 486.70 178.55 486.76 185.51 486.81 175.97 486.87 185.02 486.92 193.33 486.98 186.48 487.03 170.74 487.09 181.22 487.14 193.34 487.20 183.70 487.25 178.61 487.31 193.07 487.36 180.16 487.42 188.61 487.47 169.30 487.53 188.38 487.58 176.33 487.64 171.97 487.69 185.39 487.75 182.27 487.80 186.22 487.86 198.69 487.91 166.96 487.97 183.34 488.02 195.27 488.08 176.34 488.13 184.58 488.19 180.83 488.24 195.16 488.30 171.72 488.35 170.34 488.41 177.62 488.46 178.78 488.52 169.26 488.57 184.55 488.63 176.12 488.68 177.15 488.74 189.71 488.79 186.08 488.85 195.38 488.90 193.31 488.96 170.30 489.01 163.69 489.07 174.59 489.12 182.01 489.18 186.21 489.23 174.57 489.29 169.47 489.34 170.66 489.40 192.98 489.45 193.77 489.51 174.18 489.56 191.66 489.62 174.06 489.67 172.27 489.73 174.48 489.78 167.06 489.84 202.67 489.89 168.37 489.95 184.23 490.00 180.91 490.06 170.54 490.11 165.75 490.17 203.33 490.22 183.13 490.28 177.89 490.33 164.48 490.39 190.64 490.44 183.54 490.50 192.87 490.55 170.23 490.61 161.86 490.66 193.23 490.72 171.80 490.77 180.62 490.83 191.36 490.88 169.90 490.94 189.55 490.99 182.06 491.05 186.14 491.10 183.44 491.16 173.62 491.21 192.89 491.27 181.06 491.32 172.62 491.38 165.44 491.43 183.70 491.49 183.61 491.54 178.62 491.60 172.78 491.65 189.81 491.71 193.82 491.76 188.35 491.82 187.97 491.87 176.48 491.93 176.44 491.98 163.98 492.04 173.22 492.09 169.04 492.15 184.81 492.20 186.99 492.26 175.05 492.31 180.19 492.37 160.79 492.42 178.04 492.48 170.75 492.53 174.03 492.59 172.33 492.64 195.33 492.70 196.97 492.75 182.13 492.81 183.33 492.86 186.17 492.92 186.22 492.97 174.13 493.03 171.61 493.08 200.58 493.14 192.31 493.19 194.77 493.25 180.82 493.30 173.12 493.36 183.13 493.41 165.24 493.47 194.12 493.52 189.33 493.58 172.89 493.63 192.96 493.69 186.06 493.74 189.60 493.80 195.75 493.85 171.68 493.91 190.09 493.96 194.32 494.02 182.57 494.07 171.60 494.13 179.61 494.18 172.81 494.24 177.63 494.29 175.20 494.35 188.97 494.40 188.44 494.46 176.01 494.51 175.78 494.57 190.59 494.62 180.33 494.68 181.98 494.73 165.53 494.79 167.15 494.84 169.27 494.90 192.17 494.95 178.70 495.01 182.26 495.06 193.99 495.12 188.81 495.17 182.64 495.23 186.87 495.28 176.81 495.34 181.57 495.39 194.29 495.45 190.16 495.50 187.25 495.56 191.48 495.61 168.83 495.67 198.46 495.72 184.48 495.78 168.09 495.83 176.75 495.89 174.98 495.94 189.35 496.00 189.20 496.05 193.83 496.11 186.66 496.16 190.99 496.22 175.03 496.27 182.46 496.33 172.29 496.38 169.25 496.44 201.46 496.49 177.38 496.55 168.57 496.60 180.52 496.66 178.98 496.71 171.55 496.77 190.80 496.82 189.68 496.88 172.23 496.93 185.05 496.99 174.05 497.04 177.54 497.10 175.11 497.15 184.42 497.21 193.14 497.26 175.77 497.32 186.89 497.37 190.51 497.43 194.71 497.48 186.88 497.54 191.97 497.59 177.65 497.65 175.07 497.70 190.38 497.76 192.13 497.81 178.12 497.87 191.44 497.92 182.55 497.98 191.57 498.03 191.52 498.09 182.74 498.14 198.66 498.20 188.96 498.25 185.37 498.31 184.48 498.36 190.63 498.42 173.83 498.47 194.76 498.53 175.46 498.58 170.41 498.64 184.23 498.69 176.43 498.75 190.18 498.80 190.87 498.86 177.62 498.91 183.69 498.97 192.38 499.02 183.07 499.08 190.15 499.13 169.89 499.19 186.66 499.24 183.35 499.30 193.20 499.35 174.13 499.41 159.17 499.46 171.52 499.52 186.11 499.57 172.02 499.63 176.14 499.68 181.33 499.74 187.21 499.79 187.62 499.85 194.32 499.90 199.50 499.96 187.99 500.01 191.52 500.07 184.87 500.12 185.94 500.18 171.33 500.23 171.35 500.29 179.50 500.34 172.50 500.40 185.91 500.45 194.10 500.51 190.66 500.56 169.76 500.62 174.26 500.67 191.86 500.73 178.12 500.78 175.95 500.84 196.09 500.89 168.55 500.95 169.45 501.00 193.70 501.06 170.02 501.11 175.84 501.17 190.38 501.22 174.61 501.28 176.35 501.33 184.32 501.39 184.18 501.44 186.63 501.50 169.48 501.55 177.96 501.61 184.02 501.66 182.00 501.72 171.28 501.77 194.66 501.83 191.11 501.88 188.33 501.94 197.12 501.99 169.29 502.05 193.28 502.10 187.33 502.16 171.17 502.21 169.82 502.27 172.22 502.32 189.39 502.38 183.07 502.43 199.26 502.49 191.93 502.54 188.64 502.60 189.42 502.65 168.52 502.71 167.82 502.76 169.38 502.82 169.54 502.87 173.00 502.93 183.74 502.98 170.59 503.04 191.05 503.09 175.64 503.15 169.65 503.20 166.31 503.26 170.43 503.31 178.87 503.37 183.00 503.42 187.55 503.48 195.83 503.53 167.83 503.59 189.77 503.64 191.82 503.70 176.50 503.75 177.48 503.81 189.33 503.86 192.60 503.92 202.57 503.97 175.83 504.03 179.67 504.08 199.41 504.14 188.71 504.19 192.18 504.25 188.91 504.30 183.90 504.36 166.73 504.41 186.27 504.47 191.28 504.52 195.14 504.58 173.03 504.63 176.94 504.69 195.00 504.74 187.40 504.80 188.14 504.85 187.23 504.91 176.20 504.96 185.19 505.02 186.43 505.07 168.52 505.13 172.51 505.18 189.35 505.24 189.32 505.29 170.15 505.35 180.76 505.40 171.17 505.46 161.10 505.51 169.51 505.57 194.30 505.62 174.89 505.68 173.39 505.73 183.29 505.79 172.93 505.84 175.19 505.90 183.50 505.95 171.47 506.01 193.95 506.06 188.41 506.12 179.00 506.17 170.79 506.23 179.83 506.28 174.05 506.34 178.28 506.39 180.72 506.45 190.11 506.50 168.09 506.56 187.15 506.61 170.32 506.67 179.72 506.72 168.86 506.78 183.61 506.83 174.62 506.89 184.70 506.94 164.48 507.00 182.31 507.05 170.49 507.11 168.88 507.16 175.89 507.22 169.24 507.27 176.73 507.33 172.39 507.38 180.28 507.44 167.34 507.49 179.45 507.55 182.35 507.60 186.48 507.66 190.98 507.71 175.54 507.77 167.54 507.82 183.32 507.88 163.25 507.93 168.19 507.99 188.15 508.04 191.86 508.10 194.20 508.15 178.18 508.21 194.32 508.26 173.90 508.32 178.96 508.37 193.09 508.43 177.89 508.48 179.05 508.54 191.44 508.59 179.98 508.65 187.41 508.70 194.20 508.76 170.11 508.81 162.16 508.87 172.05 508.92 178.16 508.98 192.07 509.03 171.27 509.09 177.24 509.14 192.55 509.20 175.62 509.25 197.13 509.31 183.05 509.36 180.07 509.42 173.56 509.47 198.35 509.53 167.98 509.58 190.82 509.64 172.32 509.69 176.87 509.75 187.46 509.80 181.16 509.86 190.42 509.91 186.91 509.97 174.25 510.02 178.87 510.08 168.60 510.13 194.24 510.19 176.97 510.24 188.89 510.30 175.38 510.35 170.49 510.41 183.99 510.46 184.49 510.52 186.13 510.57 168.40 510.63 170.28 510.68 192.11 510.74 184.09 510.79 185.87 510.85 175.17 510.90 197.31 510.96 171.81 511.01 181.99 511.07 167.01 511.12 187.19 511.18 186.89 511.23 156.18 511.29 193.46 511.34 181.67 511.40 178.17 511.45 170.04 511.51 169.04 511.56 187.96 511.62 176.25 511.67 183.76 511.73 171.85 511.78 177.92 511.84 194.15 511.89 182.78 511.95 187.36 512.00 168.51 512.06 183.34 512.11 171.07 512.17 174.11 512.22 188.27 512.28 187.37 512.33 187.14 512.39 192.25 512.44 175.53 512.50 174.02 512.55 191.68 512.61 172.97 512.66 188.41 512.72 169.45 512.77 173.60 512.83 172.14 512.88 180.39 512.94 181.81 512.99 171.41 513.05 174.89 513.10 173.17 513.16 189.48 513.21 181.80 513.27 169.45 513.32 184.79 513.38 202.45 513.43 180.49 513.49 177.26 513.54 180.15 513.60 180.41 513.65 176.85 513.71 171.59 513.76 182.24 513.82 166.91 513.87 187.48 513.93 174.60 513.98 161.22 514.04 189.32 514.09 192.10 514.15 173.88 514.20 171.48 514.26 194.94 514.31 175.47 514.37 180.87 514.42 173.45 514.48 187.71 514.53 171.08 514.59 184.35 514.64 189.15 514.70 192.76 514.75 194.84 514.81 177.24 514.86 176.81 514.92 192.52 514.97 186.07 515.03 191.36 515.08 202.22 515.14 188.30 515.19 177.20 515.25 165.37 515.30 177.10 515.36 196.08 515.41 165.60 515.47 191.62 515.52 184.41 515.58 190.06 515.63 188.43 515.69 191.31 515.74 171.22 515.80 168.53 515.85 168.76 515.91 171.99 515.96 200.64 516.02 184.93 516.07 179.85 516.13 191.17 516.18 190.79 516.24 189.79 516.29 178.90 516.35 174.26 516.40 178.91 516.46 191.90 516.51 182.12 516.57 170.76 516.62 189.99 516.68 186.81 516.73 169.03 516.79 202.28 516.84 177.31 516.90 173.52 516.95 187.86 517.01 186.81 517.06 194.72 517.12 167.49 517.17 183.31 517.23 191.05 517.28 192.61 517.33 192.08 517.39 200.67 517.44 192.27 517.50 189.09 517.55 183.81 517.61 182.26 517.66 171.01 517.72 187.84 517.77 173.88 517.83 191.95 517.88 183.10 517.94 185.15 517.99 190.53 518.05 178.63 518.10 169.33 518.16 188.73 518.21 177.78 518.27 185.63 518.32 173.51 518.38 176.65 518.43 174.06 518.49 181.55 518.54 178.05 518.60 194.10 518.65 172.47 518.71 169.27 518.76 192.93 518.82 177.63 518.87 179.32 518.93 169.40 518.98 190.91 519.04 185.49 519.09 175.15 519.15 185.25 519.20 175.04 519.26 193.60 519.31 184.58 519.37 180.49 519.42 172.14 519.48 175.24 519.53 179.58 519.59 183.56 519.64 187.07 519.70 175.53 519.75 175.51 519.81 176.61 519.86 176.71 519.92 190.58 519.97 174.09 520.03 189.77 520.08 175.28 520.14 189.07 520.19 191.18 520.25 191.96 520.30 191.03 520.36 171.26 520.41 192.75 520.47 169.24 520.52 184.74 520.58 172.53 520.63 195.00 520.69 193.10 520.74 174.26 520.80 206.81 520.85 172.55 520.91 188.00 520.96 181.78 521.02 188.69 521.07 180.76 521.13 177.35 521.18 196.53 521.24 183.69 521.29 171.16 521.35 190.25 521.40 183.26 521.46 185.71 521.51 185.11 521.57 199.52 521.62 177.49 521.68 176.29 521.73 188.74 521.79 190.85 521.84 187.92 521.90 192.10 521.95 175.37 522.01 192.12 522.06 187.92 522.12 191.16 522.17 163.32 522.23 169.80 522.28 171.38 522.34 173.72 522.39 186.04 522.45 174.03 522.50 173.53 522.56 202.48 522.61 184.64 522.67 192.18 522.72 188.89 522.78 172.19 522.83 171.34 522.89 183.19 522.94 170.81 523.00 177.74 523.05 182.30 523.11 190.76 523.16 180.06 523.22 185.97 523.27 173.19 523.33 164.73 523.38 180.76 523.44 179.94 523.49 174.83 523.55 169.07 523.60 185.91 523.66 195.16 523.71 182.61 523.77 191.38 523.82 188.89 523.88 172.01 523.93 199.26 523.99 186.45 524.04 178.77 524.10 181.35 524.15 175.89 524.21 171.37 524.26 175.37 524.32 201.77 524.37 184.24 524.43 175.83 524.48 173.66 524.54 183.33 524.59 189.03 524.65 192.36 524.70 188.36 524.76 182.95 524.81 193.82 524.87 170.51 524.92 172.61 524.98 188.32 525.03 192.55 525.09 190.32 525.14 168.61 525.20 173.01 525.25 168.11 525.31 190.34 525.36 172.03 525.42 191.89 525.47 192.71 525.53 177.28 525.58 169.16 525.64 201.74 525.69 187.63 525.75 185.98 525.80 202.29 525.86 187.46 525.91 171.71 525.97 190.60 526.02 171.69 526.08 189.65 526.13 179.98 526.19 181.65 526.24 168.47 526.30 174.42 526.35 169.93 526.41 179.75 526.46 174.14 526.52 188.96 526.57 185.52 526.63 169.77 526.68 177.73 526.74 176.64 526.79 192.86 526.85 176.88 526.90 189.91 526.96 172.52 527.01 187.41 527.07 184.57 527.12 180.99 527.18 187.30 527.23 171.57 527.29 169.08 527.34 159.70 527.40 178.44 527.45 194.79 527.51 174.39 527.56 185.51 527.62 172.88 527.67 202.88 527.73 181.64 527.78 172.22 527.84 172.10 527.89 194.57 527.95 170.33 528.00 170.37 528.06 192.48 528.11 187.01 528.17 168.53 528.22 186.17 528.28 188.03 528.33 193.87 528.39 187.18 528.44 186.92 528.50 190.98 528.55 185.19 528.61 167.45 528.66 171.59 528.72 193.34 528.77 184.83 528.83 187.24 528.88 183.87 528.94 183.17 528.99 175.81 529.05 174.40 529.10 180.08 529.16 172.52 529.21 175.18 529.27 179.96 529.32 191.56 529.38 178.33 529.43 188.03 529.49 179.92 529.54 174.75 529.60 174.43 529.65 187.87 529.71 185.02 529.76 169.02 529.82 182.10 529.87 193.83 529.93 169.40 529.98 170.93 530.04 175.94 530.09 180.19 530.15 196.84 530.20 176.84 530.26 194.08 530.31 192.97 530.37 173.79 530.42 197.84 530.48 172.86 530.53 190.95 530.59 177.63 530.64 177.63 530.70 166.66 530.75 187.10 530.81 174.11 530.86 175.66 530.92 191.24 530.97 182.66 531.03 167.86 531.08 182.58 531.14 172.89 531.19 192.86 531.25 194.28 531.30 185.36 531.36 169.08 531.41 186.74 531.47 195.10 531.52 184.73 531.58 189.33 531.63 164.03 531.69 187.56 531.74 195.28 531.80 168.19 531.85 169.26 531.91 176.12 531.96 182.07 532.02 180.79 532.07 191.30 532.13 178.57 532.18 182.65 532.24 175.41 532.29 185.67 532.35 175.46 532.40 180.50 532.46 175.05 532.51 171.13 532.57 177.23 532.62 187.04 532.68 187.83 532.73 174.93 532.79 180.58 532.84 173.53 532.90 175.79 532.95 170.74 533.01 175.61 533.06 169.77 533.12 176.01 533.17 180.98 533.23 172.36 533.28 188.41 533.34 178.96 533.39 194.88 533.45 170.20 533.50 201.33 533.56 174.58 533.61 167.15 533.67 181.92 533.72 189.81 533.78 182.60 533.83 168.26 533.89 174.10 533.94 176.97 534.00 170.94 534.05 175.02 534.11 196.94 534.16 177.92 534.22 171.61 534.27 194.39 534.33 175.88 534.38 191.20 534.44 165.70 534.49 179.61 534.55 180.66 534.60 190.00 534.66 170.18 534.71 178.33 534.77 175.36 534.82 181.75 534.88 187.81 534.93 171.14 534.99 186.74 535.04 170.83 535.10 179.81 535.15 189.29 535.21 190.98 535.26 174.22 535.32 182.28 535.37 181.12 535.43 189.97 535.48 183.40 535.54 175.04 535.59 193.34 535.65 188.15 535.70 167.65 535.76 179.22 535.81 171.91 535.87 173.52 535.92 183.53 535.98 180.45 536.03 192.41 536.09 168.80 536.14 182.23 536.20 175.63 536.25 172.39 536.31 179.84 536.36 184.68 536.42 186.78 536.47 190.39 536.53 169.56 536.58 169.09 536.64 180.03 536.69 188.73 536.75 167.26 536.80 169.87 536.86 165.89 536.91 186.31 536.97 191.98 537.02 193.65 537.08 177.84 537.13 179.99 537.19 179.15 537.24 177.05 537.30 181.36 537.35 182.88 537.41 162.95 537.46 191.46 537.52 184.56 537.57 179.73 537.63 175.25 537.68 183.30 537.74 186.35 537.79 183.79 537.85 170.58 537.90 172.66 537.96 188.62 538.01 189.39 538.07 188.04 538.12 171.44 538.18 171.55 538.23 176.58 538.29 173.47 538.34 173.35 538.40 188.68 538.45 171.52 538.51 180.11 538.56 187.63 538.62 170.59 538.67 198.10 538.73 182.53 538.78 166.34 538.84 184.10 538.89 169.65 538.95 186.62 539.00 178.45 539.06 172.41 539.11 170.27 539.17 171.57 539.22 177.44 539.28 174.19 539.33 169.89 539.39 177.07 539.44 191.12 539.50 183.60 539.55 174.37 539.61 175.13 539.66 175.37 539.72 190.56 539.77 174.59 539.83 187.73 539.88 179.27 539.94 201.43 539.99 204.07 540.05 189.00 540.10 174.47 540.16 183.51 540.21 190.80 540.27 174.02 540.32 186.34 540.38 186.25 540.43 186.77 540.49 173.64 540.54 177.38 540.60 186.91 540.65 180.61 540.71 194.84 540.76 179.22 540.82 169.86 540.87 186.44 540.93 195.35 540.98 171.02 541.04 179.98 541.09 195.75 541.15 188.30 541.20 172.60 541.26 173.00 541.31 187.27 541.37 189.48 541.42 176.45 541.48 166.94 541.53 191.16 541.59 168.22 541.64 167.99 541.70 185.65 541.75 174.67 541.81 174.37 541.86 201.12 541.92 191.98 541.97 189.42 542.03 189.67 542.08 181.99 542.14 187.64 542.19 187.62 542.25 194.45 542.30 175.34 542.36 175.47 542.41 175.89 542.47 183.17 542.52 192.96 542.58 180.03 542.63 183.37 542.69 170.19 542.74 191.99 542.80 176.93 542.85 202.37 542.91 188.51 542.96 164.09 543.02 179.28 543.07 178.38 543.13 191.76 543.18 183.41 543.24 179.03 543.29 180.55 543.35 165.55 543.40 169.06 543.46 167.33 543.51 194.48 543.57 184.70 543.62 167.27 543.68 169.80 543.73 176.64 543.79 187.31 543.84 185.23 543.90 185.71 543.95 166.62 544.01 188.11 544.06 193.33 544.12 181.20 544.17 175.60 544.23 180.79 544.28 183.88 544.34 183.85 544.39 156.53 544.45 182.04 544.50 177.81 544.56 181.24 544.61 173.83 544.67 162.08 544.72 160.84 544.78 189.19 544.83 187.52 544.89 183.25 544.94 193.02 545.00 170.14 545.00 178.10 545.05 187.31 545.11 190.68 545.16 167.72 545.22 185.64 545.27 176.87 545.33 164.28 545.38 167.63 545.44 180.88 545.49 162.81 545.55 183.69 545.60 158.30 545.66 182.83 545.71 178.78 545.77 181.81 545.82 191.30 545.88 175.11 545.93 179.38 545.99 169.40 546.04 180.73 546.10 172.83 546.15 176.80 546.21 158.20 546.26 165.59 546.32 160.09 546.37 146.72 546.43 176.06 546.48 157.07 546.54 177.04 546.59 159.46 546.65 174.23 546.70 168.92 546.76 159.05 546.81 153.76 546.87 156.23 546.92 156.81 546.98 189.25 547.03 165.67 547.09 146.11 547.14 173.20 547.20 160.39 547.25 176.12 547.31 153.72 547.36 166.44 547.42 150.24 547.47 151.03 547.53 186.51 547.58 159.33 547.64 137.65 547.69 169.44 547.75 154.87 547.80 123.56 547.86 180.73 547.91 174.00 547.97 168.81 548.02 172.52 548.08 144.47 548.13 156.42 548.19 177.81 548.24 143.38 548.30 159.35 548.35 153.28 548.41 155.91 548.46 176.25 548.52 149.01 548.57 155.99 548.63 149.81 548.68 145.13 548.74 143.55 548.79 160.28 548.85 162.43 548.90 168.38 548.96 178.00 549.01 161.94 549.07 151.85 549.12 171.01 549.18 151.77 549.23 149.51 549.29 158.88 549.34 156.74 549.40 156.24 549.45 152.62 549.51 167.53 549.56 156.88 549.62 163.64 549.67 180.15 549.73 156.43 549.78 174.21 549.84 171.45 549.89 155.89 549.95 130.56 550.00 138.12 550.06 160.29 550.11 159.73 550.17 177.19 550.22 150.37 550.28 148.61 550.33 172.94 550.39 173.61 550.44 156.38 550.50 157.88 550.55 164.48 550.61 172.32 550.66 178.57 550.72 158.48 550.77 170.71 550.83 160.23 550.88 179.95 550.94 167.25 550.99 166.58 551.05 162.00 551.10 184.67 551.16 160.86 551.21 163.46 551.27 165.21 551.32 175.65 551.38 178.25 551.43 188.08 551.49 182.18 551.70 190.00 552.00 223.70 552.40 190.00 552.40 179.78 552.45 173.70 552.51 199.62 552.56 188.47 552.62 176.52 552.67 188.63 552.73 183.80 552.78 189.89 552.84 177.21 552.89 174.47 552.95 165.51 553.00 193.09 553.06 182.54 553.11 175.86 553.17 193.72 553.22 169.91 553.28 196.87 553.33 192.44 553.39 170.32 553.44 165.65 553.50 188.14 553.55 190.88 553.61 193.07 553.66 192.33 553.72 185.05 553.77 192.56 553.83 183.03 553.88 164.70 553.94 188.39 553.99 170.51 554.05 190.62 554.10 170.60 554.16 172.41 554.21 195.05 554.27 174.21 554.32 171.71 554.38 195.64 554.43 195.99 554.49 195.65 554.54 186.42 554.60 182.99 554.65 166.64 554.71 179.03 554.76 176.37 554.82 184.53 554.87 181.89 554.93 167.62 554.98 177.59 555.04 170.32 555.09 181.72 555.15 190.88 555.20 188.84 555.26 185.38 555.31 190.25 555.37 195.44 555.42 162.48 555.48 172.50 555.53 187.90 555.59 182.59 555.64 188.67 555.70 183.00 555.75 172.32 555.81 178.97 555.86 179.84 555.92 179.19 555.97 188.13 556.03 180.04 556.08 168.60 556.14 201.07 556.19 181.09 556.25 196.64 556.30 175.86 556.36 189.20 556.41 190.39 556.47 197.53 556.52 186.24 556.58 172.39 556.63 190.02 556.69 182.14 556.74 200.69 556.80 170.38 556.85 193.09 556.91 171.97 556.96 178.23 557.02 191.17 557.07 195.49 557.13 174.60 557.18 170.32 557.24 178.50 557.29 171.28 557.35 184.95 557.40 182.63 557.46 184.01 557.51 177.26 557.57 193.30 557.62 174.77 557.68 179.16 557.73 178.11 557.79 190.79 557.84 195.82 557.90 186.22 557.95 192.83 558.01 186.06 558.06 173.45 558.12 186.70 558.17 180.03 558.23 175.81 558.28 178.97 558.34 176.02 558.39 194.23 558.45 193.11 558.50 171.94 558.56 182.73 558.61 185.47 558.67 176.48 558.72 169.32 558.78 169.08 558.83 165.30 558.89 178.51 558.94 173.07 559.00 202.31 559.05 186.47 559.11 195.59 559.16 184.36 559.22 193.85 559.27 171.63 559.33 171.97 559.38 164.94 559.44 173.56 559.49 187.69 559.55 180.29 559.60 191.45 559.66 184.50 559.71 171.07 559.77 172.93 559.82 189.07 559.88 177.04 559.93 172.12 559.99 183.28 560.04 179.12 560.10 192.87 560.15 199.67 560.21 182.83 560.26 173.69 560.32 191.23 560.37 171.69 560.43 190.11 560.48 169.98 560.54 186.10 560.59 191.14 560.65 189.46 560.70 188.88 560.76 175.18 560.81 179.98 560.87 176.48 560.92 192.14 560.98 172.42 561.03 161.65 561.09 182.70 561.14 181.44 561.20 193.46 561.25 171.01 561.31 189.71 561.36 162.14 561.42 173.05 561.47 170.35 561.53 181.81 561.58 192.04 561.64 180.38 561.69 188.76 561.75 185.85 561.80 191.82 561.86 178.36 561.91 193.09 561.97 191.82 562.02 166.24 562.08 185.98 562.13 175.87 562.19 189.06 562.24 172.30 562.30 175.46 562.35 171.52 562.41 178.77 562.46 182.51 562.52 191.04 562.57 163.02 562.63 179.34 562.68 181.07 562.74 169.30 562.79 168.23 562.85 168.45 562.90 182.75 562.96 175.69 563.01 178.94 563.07 176.54 563.12 173.03 563.18 197.52 563.23 194.81 563.29 172.24 563.34 160.99 563.40 178.86 563.45 185.30 563.51 193.47 563.56 177.09 563.62 192.29 563.67 182.03 563.73 164.13 563.78 191.77 563.84 193.49 563.89 170.99 563.95 177.61 564.00 194.79 564.06 189.13 564.11 179.59 564.17 183.07 564.22 186.49 564.28 162.69 564.33 176.65 564.39 171.50 564.44 189.03 564.50 199.43 564.55 172.21 564.61 185.34 564.66 177.16 564.72 191.11 564.77 183.95 564.83 172.46 564.88 178.17 564.94 179.58 564.99 171.12 565.05 190.68 565.10 166.10 565.16 183.58 565.21 174.08 565.27 194.10 565.32 170.81 565.38 180.26 565.43 180.26 565.49 178.10 565.54 167.43 565.60 183.59 565.65 193.59 565.71 178.51 565.76 184.06 565.82 184.86 565.87 179.34 565.93 192.70 565.98 183.92 566.04 172.36 566.09 184.90 566.15 175.31 566.20 178.22 566.26 191.11 566.31 158.33 566.37 181.18 566.42 185.80 566.48 168.72 566.53 180.28 566.59 173.09 566.64 177.20 566.70 174.80 566.75 181.90 566.81 175.88 566.86 190.94 566.92 183.85 566.97 164.08 567.03 176.90 567.08 193.97 567.14 198.85 567.19 186.45 567.25 188.31 567.30 176.02 567.36 192.03 567.41 176.74 567.47 195.27 567.52 177.57 567.58 187.59 567.63 164.54 567.69 168.20 567.74 194.99 567.80 173.98 567.85 166.98 567.91 176.40 567.96 186.39 568.02 190.91 568.07 162.84 568.13 173.00 568.18 157.94 568.24 171.58 568.29 180.60 568.35 181.44 568.40 186.49 568.46 190.55 568.51 184.57 568.57 182.99 568.62 170.82 568.68 186.47 568.73 185.39 568.79 185.89 568.84 181.88 568.90 191.10 568.95 192.81 569.01 169.54 569.06 179.65 569.12 184.71 569.17 188.42 569.23 195.94 569.28 170.28 569.34 185.13 569.39 167.54 569.45 177.56 569.50 173.87 569.56 177.85 569.61 190.50 569.67 181.25 569.72 178.87 569.78 189.36 569.83 164.46 569.89 183.00 569.94 185.97 570.00 183.67 570.05 190.07 570.11 198.10 570.16 188.39 570.22 191.21 570.27 194.98 570.33 192.36 570.38 174.78 570.44 170.06 570.49 174.06 570.55 182.43 570.60 172.52 570.66 171.76 570.71 177.17 570.77 187.36 570.82 172.03 570.88 169.01 570.93 184.88 570.99 183.88 571.04 177.26 571.10 181.39 571.15 201.60 571.21 181.37 571.26 200.86 571.32 171.57 571.37 179.19 571.43 188.01 571.48 178.21 571.54 206.55 571.59 170.45 571.65 178.93 571.70 178.32 571.76 166.59 571.81 170.17 571.87 169.51 571.92 181.55 571.98 177.70 572.03 193.42 572.09 175.88 572.14 190.06 572.20 170.92 572.25 178.40 572.31 177.96 572.36 192.24 572.42 173.45 572.47 191.87 572.53 184.29 572.58 185.09 572.64 191.30 572.69 168.63 572.75 180.79 572.80 160.56 572.86 189.45 572.91 186.76 572.97 164.08 573.02 174.39 573.08 179.32 573.13 179.59 573.19 170.78 573.24 190.65 573.30 191.00 573.35 170.86 573.41 191.71 573.46 189.09 573.52 184.58 573.57 190.93 573.63 181.48 573.68 178.89 573.74 181.62 573.79 191.61 573.85 158.09 573.90 178.30 573.96 187.53 574.01 192.81 574.07 178.38 574.12 177.57 574.18 174.34 574.23 155.10 574.29 169.55 574.34 168.59 574.40 168.76 574.45 168.26 574.51 178.39 574.56 167.73 574.62 182.61 574.67 176.57 574.73 188.69 574.78 170.57 574.84 193.36 574.89 196.13 574.95 188.43 575.00 185.60 575.06 171.66 575.11 182.03 575.17 165.83 575.22 168.08 575.28 191.70 575.33 183.12 575.39 168.24 575.44 183.67 575.50 171.75 575.55 169.68 575.61 182.43 575.66 193.43 575.72 171.57 575.77 177.87 575.83 193.17 575.88 175.12 575.94 187.35 575.99 183.24 576.05 179.01 576.10 174.67 576.16 174.14 576.21 179.93 576.27 197.70 576.32 169.57 576.38 184.56 576.43 189.63 576.49 184.52 576.54 177.10 576.60 168.22 576.65 175.23 576.71 192.13 576.76 190.51 576.82 179.66 576.87 179.86 576.93 176.89 576.98 181.05 577.04 191.67 577.09 167.30 577.15 179.11 577.20 179.77 577.26 169.07 577.31 182.31 577.37 187.74 577.42 187.76 577.48 179.72 577.53 189.39 577.59 168.25 577.64 185.43 577.70 163.39 577.75 172.27 577.81 170.59 577.86 184.38 577.92 191.89 577.97 188.06 578.03 168.42 578.08 172.77 578.14 180.03 578.19 184.61 578.25 179.10 578.30 174.05 578.36 179.71 578.41 192.76 578.47 187.54 578.52 190.72 578.58 167.73 578.63 183.45 578.69 171.60 578.74 189.33 578.80 180.34 578.85 180.61 578.91 179.52 578.96 186.94 579.02 190.73 579.07 187.76 579.13 172.94 579.18 182.15 579.24 189.46 579.29 169.93 579.35 188.30 579.40 181.82 579.46 185.09 579.51 180.20 579.57 176.73 579.62 197.59 579.68 168.69 579.73 169.37 579.79 192.95 579.84 176.25 579.90 191.90 579.95 161.76 580.01 186.58 580.06 177.33 580.12 197.29 580.17 166.26 580.23 184.06 580.28 190.73 580.34 180.21 580.39 168.34 580.45 187.66 580.50 194.31 580.56 199.52 580.61 182.98 580.67 193.46 580.72 185.24 580.78 190.79 580.83 174.98 580.89 175.61 580.94 191.80 581.00 181.69 581.05 179.42 581.11 192.41 581.16 171.79 581.22 180.77 581.27 191.00 581.33 192.04 581.38 174.20 581.44 186.21 581.49 181.24 581.55 192.69 581.60 176.74 581.66 167.40 581.71 171.67 581.77 174.48 581.82 173.85 581.88 173.73 581.93 181.51 581.99 167.65 582.04 170.97 582.10 176.54 582.15 168.81 582.21 172.62 582.26 174.73 582.32 187.80 582.37 182.56 582.43 175.69 582.48 174.80 582.54 169.43 582.59 174.81 582.65 173.69 582.70 181.00 582.76 200.13 582.81 199.35 582.87 159.79 582.92 194.06 582.98 177.53 583.03 169.90 583.09 189.99 583.14 190.03 583.20 190.42 583.25 183.38 583.31 179.57 583.36 189.00 583.42 189.01 583.47 184.25 583.53 180.22 583.58 180.42 583.64 177.71 583.69 168.87 583.75 173.52 583.80 192.46 583.86 180.82 583.91 167.56 583.97 166.59 584.02 170.36 584.08 188.54 584.13 165.94 584.19 179.73 584.24 160.52 584.30 179.18 584.35 178.85 584.41 186.25 584.46 184.17 584.52 171.41 584.57 176.37 584.63 194.19 584.68 182.74 584.74 199.55 584.79 191.07 584.85 189.73 584.90 187.14 584.96 181.45 585.01 179.06 585.07 191.20 585.12 171.40 585.18 183.85 585.23 193.02 585.29 180.26 585.34 169.95 585.40 191.85 585.45 168.08 585.51 182.71 585.56 185.55 585.62 179.33 585.67 166.72 585.73 180.41 585.78 189.01 585.84 178.20 585.89 177.58 585.95 182.56 586.00 181.61 586.06 167.57 586.11 173.34 586.17 169.41 586.22 180.87 586.28 177.79 586.33 183.57 586.39 180.46 586.44 174.69 586.50 184.45 586.55 170.95 586.61 189.51 586.66 179.69 586.72 182.74 586.77 187.08 586.83 180.84 586.88 185.62 586.94 176.78 586.99 201.03 587.05 194.80 587.10 168.19 587.16 171.03 587.21 176.20 587.27 178.45 587.32 194.07 587.38 166.02 587.43 197.14 587.49 181.31 587.54 172.73 587.60 175.56 587.65 162.42 587.71 180.49 587.76 171.80 587.82 177.38 587.87 173.47 587.93 166.24 587.98 174.61 588.04 179.53 588.09 173.27 588.15 173.86 588.20 174.29 588.26 190.27 588.31 182.31 588.37 191.50 588.42 179.66 588.48 175.64 588.53 188.00 588.59 171.73 588.64 190.15 588.70 169.32 588.75 188.17 588.81 190.74 588.86 201.40 588.92 183.29 588.97 183.79 589.03 173.16 589.08 190.32 589.14 179.14 589.19 185.72 589.25 167.48 589.30 168.78 589.36 190.64 589.41 195.97 589.47 192.15 589.52 179.99 589.58 169.23 589.63 175.25 589.69 193.64 589.74 171.60 589.80 167.83 589.85 192.48 589.91 185.00 589.96 187.05 590.02 170.33 590.07 168.97 590.13 170.65 590.18 187.75 590.24 182.65 590.29 192.91 590.35 192.04 590.40 185.20 590.46 188.26 590.51 193.16 590.57 163.24 590.62 186.67 590.68 185.85 590.73 183.48 590.79 177.64 590.84 170.75 590.90 171.29 590.95 190.01 591.01 190.78 591.06 200.69 591.12 169.91 591.17 173.18 591.23 179.38 591.28 171.43 591.34 170.54 591.39 188.42 591.45 194.89 591.50 174.51 591.56 162.12 591.61 192.79 591.67 170.06 591.72 184.96 591.78 174.04 591.83 173.31 591.89 182.37 591.94 190.76 592.00 178.72 592.05 180.80 592.11 167.93 592.16 189.98 592.22 181.69 592.27 177.50 592.33 180.78 592.38 184.88 592.44 173.24 592.49 175.42 592.55 192.28 592.60 186.03 592.66 192.22 592.71 190.59 592.77 187.55 592.82 174.49 592.88 198.01 592.93 171.71 592.99 167.07 593.04 180.33 593.10 183.59 593.15 175.86 593.21 189.29 593.26 171.67 593.32 171.97 593.37 167.69 593.43 178.58 593.48 168.63 593.54 192.95 593.59 190.81 593.65 174.34 593.70 171.99 593.76 191.64 593.81 162.39 593.87 176.09 593.92 162.84 593.98 181.56 594.03 168.40 594.09 180.34 594.14 171.64 594.20 188.83 594.25 187.27 594.31 187.51 594.36 185.15 594.42 185.62 594.47 189.98 594.53 183.60 594.58 186.52 594.64 187.09 594.69 177.78 594.75 177.39 594.80 191.35 594.86 190.27 594.91 188.53 594.97 172.45 595.02 175.59 595.08 180.25 595.13 188.17 595.19 189.14 595.24 185.21 595.30 168.60 595.35 171.92 595.41 185.93 595.46 185.81 595.52 183.08 595.57 184.53 595.63 161.90 595.68 189.62 595.74 173.31 595.79 171.92 595.85 177.26 595.90 190.05 595.96 185.37 596.01 170.15 596.07 163.50 596.12 180.53 596.18 184.81 596.23 168.11 596.29 156.57 596.34 168.72 596.40 192.60 596.45 175.76 596.51 190.84 596.56 172.38 596.62 182.28 596.67 178.94 596.73 186.84 596.78 190.24 596.84 186.22 596.89 173.09 596.95 176.06 597.00 162.52 597.06 199.38 597.11 189.06 597.17 177.83 597.22 160.07 597.28 184.17 597.33 180.13 597.39 185.69 597.44 169.45 597.50 199.88 597.55 179.63 597.61 179.47 597.66 171.53 597.72 174.14 597.77 182.78 597.83 197.12 597.88 178.73 597.94 190.22 597.99 183.20 598.05 193.98 598.10 172.64 598.16 199.66 598.21 182.35 598.27 188.81 598.32 185.38 598.38 182.14 598.43 172.26 598.49 173.84 598.54 179.58 598.60 172.94 598.65 193.13 598.71 179.85 598.76 166.14 598.82 194.38 598.87 190.06 598.93 178.39 598.98 163.62 599.04 165.81 599.09 198.59 599.15 180.01 599.20 186.29 599.26 160.39 599.31 179.37 599.37 161.27 599.42 186.73 599.48 174.95 599.53 190.66 599.59 200.45 599.64 160.73 599.70 173.35 599.75 173.00 599.81 172.97 599.86 191.59 599.92 200.61 599.97 172.29 600.03 182.52 600.08 180.18 600.14 184.91 600.19 170.22 600.25 178.99 600.30 183.48 600.36 191.60 600.41 173.08 600.47 193.52 600.50 186.95 600.55 183.55 600.61 181.74 600.66 166.00 600.72 177.63 600.77 171.03 600.83 184.06 600.88 173.48 600.94 186.66 600.99 181.00 601.05 182.63 601.10 188.31 601.16 182.90 601.21 184.73 601.27 174.34 601.32 168.17 601.38 178.88 601.43 183.47 601.49 173.59 601.54 163.26 601.60 185.34 601.65 150.07 601.71 168.88 601.76 183.56 601.82 184.68 601.87 184.50 601.93 192.96 601.98 164.02 602.04 170.16 602.09 175.03 602.15 166.34 602.20 180.48 602.26 180.28 602.31 159.85 602.37 184.52 602.42 174.97 602.48 170.00 602.53 181.92 602.59 158.09 602.64 172.55 602.70 170.20 602.75 167.22 602.81 169.96 602.86 176.04 602.92 151.71 602.97 148.90 603.03 162.96 603.08 165.01 603.14 170.57 603.19 158.59 603.25 167.58 603.30 181.21 603.36 153.76 603.41 156.37 603.47 146.23 603.52 159.17 603.58 173.61 603.63 190.99 603.69 170.72 603.74 185.80 603.80 154.11 603.85 175.31 603.91 149.00 603.96 174.35 604.02 146.32 604.07 154.86 604.13 176.25 604.18 181.24 604.24 161.26 604.29 161.96 604.35 158.46 604.40 176.55 604.46 181.25 604.51 178.30 604.57 158.50 604.62 164.94 604.68 151.02 604.73 137.00 604.79 174.04 604.84 169.59 604.90 178.70 604.95 166.39 605.01 163.91 605.06 163.55 605.12 171.87 605.17 168.46 605.23 179.84 605.28 161.29 605.34 169.81 605.39 140.67 605.45 168.75 605.50 179.67 605.56 174.01 605.61 153.55 605.67 153.45 605.72 164.83 605.78 182.90 605.83 182.40 605.89 161.21 605.94 167.86 606.00 160.49 606.05 163.26 606.11 146.35 606.16 167.71 606.22 178.50 606.27 159.71 606.33 177.10 606.38 163.67 606.44 179.50 606.49 183.84 606.55 159.59 606.60 178.93 606.66 160.91 606.71 175.53 606.77 172.98 606.82 171.16 606.88 169.80 606.93 165.52 606.99 177.01 607.04 172.17 607.10 175.84 607.15 185.77 607.21 167.66 607.26 190.00 607.32 155.04 607.37 180.42 607.43 181.58 607.48 160.68 607.54 173.55 607.59 168.32 607.65 168.04 607.70 174.80 607.76 164.14 607.81 186.56 607.87 163.88 607.92 170.31 607.98 193.45 608.03 177.98 608.09 174.83 608.14 185.12 608.20 190.40 608.25 174.46 608.31 185.80 608.36 177.05 608.42 169.40 608.47 170.00 602.20 200.00 602.40 209.00 602.70 195.00 608.50 171.53 608.55 176.95 608.61 175.44 608.66 170.66 608.72 193.01 608.77 189.86 608.83 181.11 608.88 188.62 608.94 186.53 608.99 168.59 609.05 189.48 609.10 177.38 609.16 170.27 609.21 183.27 609.27 193.35 609.32 172.32 609.38 180.59 609.43 189.17 609.49 178.86 609.54 188.07 609.60 171.57 609.65 185.47 609.71 192.03 609.76 183.99 609.82 167.67 609.87 179.26 609.93 166.08 609.98 167.90 610.04 177.88 610.09 187.31 610.15 172.42 610.20 193.81 610.26 180.27 610.31 164.83 610.37 192.54 610.42 179.15 610.48 174.83 610.53 167.50 610.59 171.79 610.64 193.34 610.70 178.97 610.75 192.70 610.81 192.73 610.86 161.73 610.92 182.88 610.97 186.44 611.03 193.22 611.08 174.68 611.14 186.04 611.19 186.89 611.25 170.21 611.30 189.91 611.36 193.27 611.41 176.96 611.47 190.45 611.52 183.89 611.58 184.58 611.63 186.95 611.69 191.82 611.74 183.43 611.80 191.59 611.85 193.02 611.91 190.37 611.96 196.50 612.02 179.95 612.07 172.17 612.13 175.46 612.18 189.61 612.24 179.58 612.29 202.15 612.35 168.88 612.40 184.11 612.46 186.61 612.51 201.42 612.57 192.46 612.62 178.85 612.68 198.85 612.73 167.67 612.79 172.12 612.84 169.86 612.90 172.33 612.95 163.11 613.01 184.32 613.06 184.46 613.12 180.09 613.17 174.33 613.23 160.78 613.28 180.29 613.34 189.27 613.39 174.06 613.45 188.98 613.50 171.66 613.56 180.93 613.61 182.21 613.67 164.76 613.72 186.12 613.78 169.56 613.83 175.15 613.89 183.26 613.94 187.03 614.00 185.73 614.05 166.00 614.11 184.14 614.16 155.32 614.22 177.07 614.27 182.31 614.33 186.67 614.38 186.14 614.44 181.65 614.49 182.68 614.55 169.93 614.60 171.99 614.66 183.54 614.71 199.99 614.77 175.22 614.82 176.40 614.88 167.82 614.93 170.76 614.99 175.59 615.04 177.57 615.10 181.97 615.15 168.70 615.21 189.63 615.26 181.52 615.32 194.17 615.37 200.03 615.43 194.22 615.48 173.43 615.54 162.76 615.59 187.33 615.65 178.56 615.70 177.23 615.76 189.10 615.81 167.62 615.87 175.91 615.92 166.59 615.98 182.84 616.03 190.34 616.09 172.57 616.14 174.79 616.20 180.19 616.25 181.18 616.31 175.27 616.36 181.30 616.42 171.70 616.47 162.58 616.53 180.96 616.58 184.05 616.64 171.31 616.69 184.25 616.75 176.33 616.80 192.53 616.86 174.98 616.91 185.73 616.97 183.04 617.02 172.90 617.08 185.52 617.13 166.12 617.19 169.52 617.24 179.47 617.30 186.79 617.35 190.74 617.41 154.13 617.46 179.75 617.52 190.79 617.57 177.87 617.63 175.02 617.68 169.98 617.74 159.53 617.79 173.33 617.85 162.85 617.90 184.23 617.96 174.13 618.01 180.16 618.07 176.60 618.12 182.77 618.18 183.80 618.23 189.16 618.29 180.09 618.34 176.84 618.40 188.29 618.45 171.41 618.51 177.01 618.56 170.57 618.62 174.60 618.67 182.87 618.73 180.88 618.78 188.32 618.84 182.86 618.89 170.98 618.95 173.46 619.00 179.41 619.06 187.63 619.11 188.43 619.17 193.53 619.22 179.18 619.28 191.16 619.33 187.02 619.39 177.30 619.44 184.26 619.50 176.16 619.55 167.43 619.61 166.34 619.66 166.76 619.72 179.09 619.77 171.63 619.83 158.87 619.88 168.14 619.94 174.04 619.99 186.95 620.05 192.74 620.10 183.18 620.16 176.85 620.21 181.45 620.27 179.25 620.32 189.14 620.38 165.37 620.43 181.11 620.49 180.83 620.54 171.15 620.60 180.58 620.65 192.89 620.71 166.44 620.76 176.24 620.82 183.31 620.87 180.42 620.93 171.30 620.98 164.74 621.04 181.90 621.09 178.87 621.15 186.55 621.20 167.42 621.26 181.07 621.31 193.68 621.37 188.01 621.42 185.46 621.48 182.48 621.53 174.69 621.59 192.10 621.64 191.77 621.70 179.71 621.75 177.13 621.81 165.03 621.86 188.17 621.92 185.92 621.97 174.17 622.03 198.96 622.08 165.34 622.14 178.31 622.19 200.97 622.25 172.30 622.30 166.95 622.36 172.53 622.41 190.40 622.47 172.30 622.52 176.49 622.58 189.88 622.63 169.94 622.69 185.05 622.74 181.82 622.80 187.01 622.85 184.89 622.91 175.65 622.96 186.14 623.02 168.12 623.07 187.81 623.13 193.12 623.18 176.05 623.24 178.35 623.29 192.16 623.35 180.31 623.40 176.68 623.46 200.95 623.51 182.61 623.57 168.92 623.62 174.16 623.68 172.69 623.73 188.21 623.79 172.64 623.84 172.50 623.90 172.07 623.95 185.37 624.01 183.25 624.06 173.97 624.12 171.48 624.17 187.25 624.23 186.05 624.28 176.13 624.34 170.81 624.39 197.61 624.45 192.44 624.50 173.05 624.56 170.53 624.61 184.64 624.67 185.61 624.72 168.06 624.78 174.26 624.83 190.88 624.89 178.53 624.94 193.95 625.00 197.83 625.05 168.91 625.11 177.53 625.16 171.63 625.22 186.79 625.27 188.18 625.33 170.97 625.38 184.41 625.44 174.62 625.49 186.56 625.55 165.13 625.60 170.98 625.66 189.73 625.71 189.38 625.77 178.94 625.82 170.76 625.88 194.34 625.93 164.54 625.99 189.44 626.04 174.33 626.10 172.38 626.15 184.41 626.21 176.57 626.26 183.46 626.32 169.01 626.37 171.94 626.43 190.46 626.48 180.13 626.54 173.75 626.59 168.94 626.65 169.20 626.70 190.02 626.76 188.85 626.81 183.93 626.87 182.15 626.92 172.18 626.98 186.34 627.03 189.98 627.09 165.89 627.14 173.36 627.20 186.72 627.25 171.99 627.31 187.76 627.36 172.97 627.42 182.95 627.47 166.39 627.53 175.19 627.58 170.77 627.64 182.43 627.69 191.09 627.75 186.27 627.80 177.35 627.86 182.27 627.91 168.31 627.97 162.26 628.02 178.53 628.08 171.79 628.13 162.41 628.19 160.95 628.24 192.35 628.30 190.11 628.35 170.30 628.41 191.50 628.46 182.96 628.52 177.14 628.57 170.71 628.63 192.71 628.68 183.02 628.74 167.92 628.79 199.88 628.85 193.06 628.90 177.99 628.96 173.22 629.01 171.38 629.07 175.65 629.12 190.13 629.18 181.45 629.23 182.66 629.29 181.26 629.34 190.95 629.40 200.28 629.45 180.86 629.51 188.09 629.56 181.82 629.62 171.47 629.67 177.29 629.73 182.38 629.78 172.57 629.84 193.49 629.89 183.83 629.95 184.42 630.00 175.12 630.06 168.62 630.11 174.33 630.17 178.95 630.22 177.12 630.28 187.29 630.33 171.33 630.39 168.85 630.44 182.25 630.50 185.57 630.55 188.37 630.61 169.02 630.66 176.27 630.72 167.91 630.77 191.59 630.83 176.21 630.88 193.43 630.94 168.80 630.99 183.34 631.05 162.77 631.10 189.65 631.16 167.49 631.21 184.24 631.27 158.60 631.32 178.08 631.38 185.90 631.43 182.45 631.49 190.28 631.54 179.28 631.60 181.49 631.65 177.73 631.71 196.36 631.76 175.17 631.82 179.11 631.87 179.06 631.93 185.46 631.98 174.31 632.04 177.89 632.09 183.16 632.15 191.56 632.20 178.50 632.26 187.67 632.31 168.54 632.37 178.85 632.42 175.26 632.48 173.23 632.53 173.24 632.59 181.72 632.64 173.98 632.70 183.37 632.75 196.06 632.81 167.39 632.86 181.60 632.92 190.22 632.97 172.57 633.03 183.86 633.08 191.69 633.14 177.89 633.19 178.52 633.25 201.23 633.30 183.57 633.36 177.03 633.41 192.78 633.47 175.99 633.52 171.17 633.58 192.88 633.63 186.62 633.69 177.90 633.74 175.72 633.80 184.34 633.85 192.13 633.91 192.00 633.96 180.41 634.02 193.17 634.07 179.40 634.13 186.44 634.18 177.47 634.24 168.27 634.29 185.79 634.35 188.24 634.40 200.06 634.46 192.61 634.51 187.46 634.57 168.45 634.62 175.08 634.68 186.05 634.73 187.07 634.79 186.80 634.84 192.07 634.90 177.93 634.95 174.07 635.01 193.67 635.06 188.01 635.12 176.76 635.17 190.65 635.23 172.63 635.28 186.67 635.34 180.31 635.39 170.42 635.45 186.27 635.50 183.57 635.56 191.67 635.61 185.35 635.67 183.95 635.72 172.43 635.78 167.73 635.83 172.16 635.89 184.18 635.94 177.05 636.00 175.60 636.05 174.07 636.11 178.26 636.16 191.50 636.22 177.34 636.27 184.36 636.33 179.99 636.38 185.68 636.44 177.12 636.49 183.56 636.50 164.46 636.55 201.32 636.61 180.19 636.66 184.53 636.72 176.95 636.77 173.15 636.83 178.97 636.88 181.87 636.94 191.27 636.99 183.42 637.05 174.67 637.10 193.21 637.16 179.74 637.21 167.09 637.27 198.26 637.32 166.50 637.38 183.68 637.43 182.09 637.49 166.39 637.54 176.60 637.60 188.63 637.65 171.75 637.71 170.42 637.76 167.60 637.82 169.77 637.87 182.94 637.93 193.18 637.98 167.11 638.04 180.36 638.09 170.26 638.15 176.80 638.20 194.42 638.26 184.05 638.31 182.52 638.37 162.36 638.42 181.04 638.48 174.52 638.53 168.41 638.59 171.14 638.64 185.91 638.70 177.33 638.75 176.05 638.81 160.30 638.86 160.44 638.92 164.97 638.97 171.65 639.03 175.08 639.08 184.05 639.14 173.54 639.19 176.39 639.25 181.89 639.30 167.24 639.36 171.92 639.41 166.47 639.47 164.70 639.52 168.65 639.58 160.65 639.63 175.47 639.69 183.42 639.74 175.85 639.80 158.28 639.85 177.29 639.91 159.96 639.96 178.82 640.02 172.67 640.07 176.18 640.13 174.48 640.18 181.99 640.24 174.03 640.29 182.52 640.35 180.61 640.40 168.52 640.46 161.58 640.51 152.92 640.57 186.85 640.62 161.46 640.68 185.14 640.73 178.95 640.79 168.90 640.84 180.97 640.90 175.93 640.95 162.85 641.01 164.80 641.06 185.23 641.12 162.34 641.17 159.21 641.23 166.63 641.28 180.59 641.34 183.41 641.39 187.08 641.45 174.84 641.50 172.74 641.56 174.91 641.61 157.51 641.67 174.83 641.72 166.51 641.78 182.13 641.83 180.27 641.89 161.93 641.94 172.00 642.00 184.57 642.05 194.60 642.11 162.68 642.16 172.20 642.22 166.00 642.27 186.58 642.33 167.64 642.38 176.43 642.44 171.55 642.49 185.26 642.55 165.98 642.60 162.93 642.66 167.89 642.71 161.64 642.77 185.87 642.82 178.62 642.88 167.73 642.93 167.41 642.99 182.22 643.04 174.49 643.10 180.63 643.15 186.15 643.21 192.52 643.26 163.65 643.32 184.51 643.37 189.41 643.43 183.09 643.48 179.64 643.50 190.61 643.55 175.36 643.61 190.84 643.66 195.52 643.72 189.85 643.77 195.42 643.83 176.40 643.88 176.71 643.94 178.09 643.99 182.20 644.05 182.96 644.10 197.27 644.16 173.69 644.21 199.87 644.27 203.55 644.32 195.73 644.38 185.50 644.43 189.36 644.49 196.97 644.54 195.29 644.60 180.72 644.65 194.15 644.71 196.89 644.76 202.51 644.82 196.58 644.87 187.85 644.93 209.20 644.98 181.83 645.04 195.94 645.09 183.23 645.15 166.52 645.20 179.93 645.26 179.08 645.31 178.64 645.37 174.59 645.42 196.48 645.48 192.05 645.53 179.06 645.59 173.50 645.64 174.13 645.70 193.00 645.75 198.80 645.81 191.64 645.86 177.35 645.92 175.56 645.97 180.27 646.03 186.53 646.08 193.98 646.14 195.95 646.19 197.35 646.25 198.10 646.30 196.31 646.36 196.35 646.41 190.37 646.47 165.09 646.52 174.50 646.58 176.46 646.63 196.09 646.69 169.97 646.74 192.77 646.80 191.47 646.85 191.80 646.91 195.89 646.96 177.58 647.02 193.52 647.07 174.55 647.13 171.82 647.18 195.05 647.24 184.15 647.29 182.66 647.35 174.28 647.40 194.28 647.46 194.23 647.51 175.72 647.57 175.58 647.62 188.34 647.68 176.06 647.73 200.36 647.79 188.54 647.84 178.36 647.90 173.90 647.95 167.66 648.00 187.78 648.05 175.45 648.11 169.38 648.16 185.96 648.22 180.51 648.27 178.93 648.33 177.80 648.38 164.45 648.44 187.55 648.49 192.10 648.55 169.59 648.60 178.26 648.66 185.15 648.71 181.12 648.77 170.67 648.82 170.34 648.88 178.03 648.93 172.40 648.99 176.58 649.04 188.89 649.10 175.40 649.15 176.77 649.21 179.14 649.26 176.65 649.32 175.99 649.37 186.68 649.43 169.31 649.48 182.44 649.54 172.92 649.59 174.00 649.65 184.75 649.70 170.18 649.76 167.90 649.81 170.54 649.87 167.74 649.92 169.03 649.98 171.96 650.03 174.71 650.09 185.89 650.14 177.82 650.20 176.71 650.25 184.07 650.31 183.08 650.36 181.41 650.42 173.50 650.47 191.48 650.53 183.68 650.58 172.49 650.64 178.45 650.69 165.17 650.75 177.27 650.80 175.47 650.86 189.61 650.91 184.47 650.97 190.35 651.02 173.53 651.08 191.40 651.13 175.86 651.19 167.21 651.24 170.80 651.30 179.91 651.35 175.40 651.41 190.92 651.46 192.79 651.52 167.21 651.57 188.99 651.63 181.52 651.68 168.72 651.74 190.43 651.79 188.49 651.85 189.24 651.90 167.87 651.96 167.96 652.01 179.21 652.07 181.88 652.12 182.20 652.18 188.23 652.23 167.86 652.29 187.45 652.34 183.06 652.40 169.18 652.45 181.77 652.51 170.88 652.56 170.70 652.62 172.29 652.67 185.43 652.73 173.16 652.78 169.24 652.84 185.79 652.89 184.92 652.95 177.70 653.00 175.72 653.06 172.31 653.11 168.77 653.17 184.77 653.22 186.71 653.28 166.58 653.33 176.32 653.39 190.98 653.44 189.80 653.50 189.81 653.55 183.69 653.61 191.92 653.66 198.36 653.72 172.75 653.77 181.84 653.83 199.68 653.88 192.76 653.94 170.88 653.99 173.65 654.05 192.00 654.10 197.09 654.16 170.45 654.21 189.86 654.27 181.32 654.32 193.23 654.38 184.47 654.43 176.56 654.49 200.93 654.54 184.53 654.60 189.57 654.65 189.31 654.71 167.10 654.76 187.78 654.82 167.46 654.87 173.10 654.93 173.15 654.98 180.42 655.04 173.09 655.09 165.12 655.15 167.43 655.20 176.49 655.26 168.25 655.31 170.14 655.37 172.43 655.42 189.77 655.48 173.58 655.53 165.49 655.59 165.74 655.64 188.11 655.70 185.69 655.75 185.88 655.81 184.43 655.86 188.04 655.92 192.11 655.97 169.26 656.03 172.83 656.08 171.17 656.14 192.14 656.19 193.39 656.25 188.86 656.30 175.60 656.36 187.85 656.41 177.19 656.47 165.42 656.52 202.45 656.58 179.13 656.63 165.12 656.69 173.47 656.74 194.02 656.80 185.64 656.85 192.35 656.91 161.47 656.96 184.79 657.02 169.91 657.07 181.20 657.13 168.37 657.18 169.68 657.24 186.85 657.29 170.89 657.35 186.72 657.40 170.84 657.46 170.21 657.51 168.99 657.57 177.92 657.62 168.94 657.68 180.30 657.73 190.57 657.79 191.06 657.84 191.40 657.90 171.47 657.95 175.01 658.01 176.97 658.06 178.34 658.12 174.42 658.17 188.10 658.23 177.86 658.28 193.78 658.34 176.27 658.39 177.53" fill="none" stroke="#1010e6" stroke-width="0.62" stroke-linejoin="round" />
<path d="M467.00 140.00 467.10 59.10" fill="none" stroke="#4040ee" stroke-width="1.3" stroke-linejoin="round" stroke-dasharray="1.4 0.8"/>
<path d="M546.20 150.00 546.30 116.10" fill="none" stroke="#4040ee" stroke-width="1.3" stroke-linejoin="round" stroke-dasharray="1.4 0.8"/>
<path d="M602.30 160.00 602.40 136.90" fill="none" stroke="#4040ee" stroke-width="1.3" stroke-linejoin="round" stroke-dasharray="1.4 0.8"/>
<path d="M466.80 231.10 467.20 160.00 467.90 130.00 469.30 100.00 472.80 64.80" fill="none" stroke="#ec0a14" stroke-width="1.5" stroke-linejoin="round" />
<path d="M544.40 230.10 546.00 229.00 547.20 190.00 548.50 160.00 552.00 114.40" fill="none" stroke="#ec0a14" stroke-width="1.5" stroke-linejoin="round" />
<path d="M601.80 230.50 603.00 225.00 603.60 190.00 604.50 175.00" fill="none" stroke="#ec0a14" stroke-width="1.5" stroke-linejoin="round" />
<path d="M638.70 231.10 644.70 205.00" fill="none" stroke="#ec0a14" stroke-width="1.6" stroke-linejoin="round" />
<line x1="436.3" y1="43.6" x2="436.3" y2="246.5" stroke="#e03c3c" stroke-width="1"/>
<line x1="432.8" y1="43.69999999999999" x2="436.3" y2="43.69999999999999" stroke="#e03c3c" stroke-width="1"/>
<text x="432.1" y="50.09999999999999" font-size="16" fill="#ec0a14" text-anchor="end" font-weight="normal" stroke="#ec0a14" stroke-width="0.3" >786</text>
<line x1="432.8" y1="82.29999999999998" x2="436.3" y2="82.29999999999998" stroke="#e03c3c" stroke-width="1"/>
<text x="432.1" y="88.69999999999999" font-size="16" fill="#ec0a14" text-anchor="end" font-weight="normal" stroke="#ec0a14" stroke-width="0.3" >782</text>
<line x1="432.8" y1="120.89999999999998" x2="436.3" y2="120.89999999999998" stroke="#e03c3c" stroke-width="1"/>
<text x="432.1" y="127.29999999999998" font-size="16" fill="#ec0a14" text-anchor="end" font-weight="normal" stroke="#ec0a14" stroke-width="0.3" >778</text>
<line x1="432.8" y1="159.5" x2="436.3" y2="159.5" stroke="#e03c3c" stroke-width="1"/>
<text x="432.1" y="165.9" font-size="16" fill="#ec0a14" text-anchor="end" font-weight="normal" stroke="#ec0a14" stroke-width="0.3" >774</text>
<line x1="432.8" y1="198.1" x2="436.3" y2="198.1" stroke="#e03c3c" stroke-width="1"/>
<text x="432.1" y="204.5" font-size="16" fill="#ec0a14" text-anchor="end" font-weight="normal" stroke="#ec0a14" stroke-width="0.3" >770</text>
<line x1="432.8" y1="236.7" x2="436.3" y2="236.7" stroke="#e03c3c" stroke-width="1"/>
<text x="432.1" y="243.1" font-size="16" fill="#ec0a14" text-anchor="end" font-weight="normal" stroke="#ec0a14" stroke-width="0.3" >766</text>
<line x1="687.8" y1="44" x2="687.8" y2="246.5" stroke="#4848d8" stroke-width="1"/>
<line x1="687.8" y1="45.50000000000003" x2="691.0" y2="45.50000000000003" stroke="#4848d8" stroke-width="1"/>
<text x="694.0" y="50.300000000000026" font-size="16" fill="#1010e6" text-anchor="start" font-weight="normal" stroke="#1010e6" stroke-width="0.3" >0.30</text>
<line x1="687.8" y1="90.10000000000001" x2="691.0" y2="90.10000000000001" stroke="#4848d8" stroke-width="1"/>
<text x="694.0" y="94.9" font-size="16" fill="#1010e6" text-anchor="start" font-weight="normal" stroke="#1010e6" stroke-width="0.3" >0.20</text>
<line x1="687.8" y1="134.70000000000002" x2="691.0" y2="134.70000000000002" stroke="#4848d8" stroke-width="1"/>
<text x="694.0" y="139.50000000000003" font-size="16" fill="#1010e6" text-anchor="start" font-weight="normal" stroke="#1010e6" stroke-width="0.3" >0.10</text>
<line x1="687.8" y1="179.3" x2="691.0" y2="179.3" stroke="#4848d8" stroke-width="1"/>
<text x="694.0" y="184.10000000000002" font-size="16" fill="#1010e6" text-anchor="start" font-weight="normal" stroke="#1010e6" stroke-width="0.3" >0.00</text>
<line x1="687.8" y1="223.9" x2="691.0" y2="223.9" stroke="#4848d8" stroke-width="1"/>
<text x="695.0" y="228.70000000000002" font-size="16" fill="#1010e6" text-anchor="start" font-weight="normal" stroke="#1010e6" stroke-width="0.3" >-0.10</text>
<line x1="436.3" y1="246.5" x2="687.8" y2="246.5" stroke="#333" stroke-width="1"/>
<line x1="457.3" y1="246.5" x2="457.3" y2="250.5" stroke="#333" stroke-width="1"/>
<text x="459.7" y="263.6" font-size="15" fill="#151515" text-anchor="middle" font-weight="normal" stroke="#151515" stroke-width="0.3" >0</text>
<line x1="499.3" y1="246.5" x2="499.3" y2="250.5" stroke="#333" stroke-width="1"/>
<text x="498.5" y="263.6" font-size="15" fill="#151515" text-anchor="middle" font-weight="normal" stroke="#151515" stroke-width="0.3" >30</text>
<line x1="541.3" y1="246.5" x2="541.3" y2="250.5" stroke="#333" stroke-width="1"/>
<text x="540.5" y="263.6" font-size="15" fill="#151515" text-anchor="middle" font-weight="normal" stroke="#151515" stroke-width="0.3" >60</text>
<line x1="583.3" y1="246.5" x2="583.3" y2="250.5" stroke="#333" stroke-width="1"/>
<text x="582.5" y="263.6" font-size="15" fill="#151515" text-anchor="middle" font-weight="normal" stroke="#151515" stroke-width="0.3" >90</text>
<line x1="625.3" y1="246.5" x2="625.3" y2="250.5" stroke="#333" stroke-width="1"/>
<text x="624.5" y="263.6" font-size="15" fill="#151515" text-anchor="middle" font-weight="normal" stroke="#151515" stroke-width="0.3" >120</text>
<line x1="667.3" y1="246.5" x2="667.3" y2="250.5" stroke="#333" stroke-width="1"/>
<text x="666.5" y="263.6" font-size="15" fill="#151515" text-anchor="middle" font-weight="normal" stroke="#151515" stroke-width="0.3" >150</text>
<text x="577.6" y="283.7" font-size="14.2" fill="#151515" text-anchor="middle" font-weight="normal" stroke="#151515" stroke-width="0.3" >Time (min)</text>
<text x="0" y="0" font-size="15.9" fill="#ec0a14" text-anchor="middle" font-weight="normal" stroke="#ec0a14" stroke-width="0.3" transform="translate(394.2,140.7) rotate(-90) scale(1,0.93)">Resistance (Ω)</text>
<text x="0" y="0" font-size="15.8" fill="#1010e6" text-anchor="middle" font-weight="normal" stroke="#1010e6" stroke-width="0.3" transform="translate(744.2,139.3) rotate(-90)">Rate of Change (Ω s<tspan font-size="8.5" dy="-6.5">-1</tspan><tspan dy="6.5">)</tspan></text>
</svg></body></html>
